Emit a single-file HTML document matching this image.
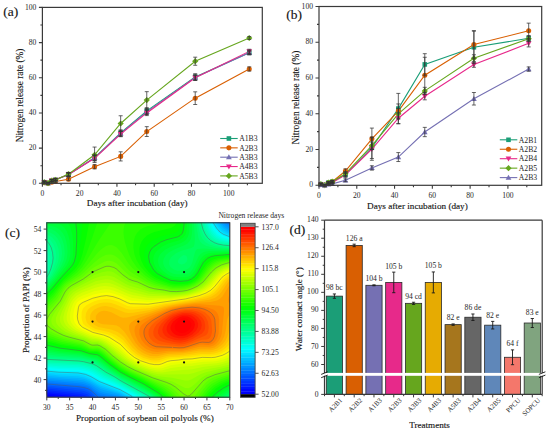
<!DOCTYPE html><html><head><meta charset="utf-8"><style>html,body{margin:0;padding:0;background:#fff;overflow:hidden}svg{display:block}</style></head><body>
<svg width="550" height="431" viewBox="0 0 550 431" font-family="'Liberation Serif', serif">
<style>.t{stroke:#222;stroke-width:0.14px}</style>
<rect width="550" height="431" fill="#fff"/>
<polyline points="44.26,182.24 47.99,183.12 51.72,180.66 55.44,179.78 68.49,174.51 94.58,157.62 120.67,132.99 146.76,110.83 195.21,76.88 249.25,52.78" fill="none" stroke="#1b9e77" stroke-width="1.1"/>
<polyline points="44.26,182.77 47.99,183.3 51.72,182.24 55.44,181.54 68.49,179.25 94.58,166.77 120.67,156.39 146.76,131.59 195.21,98.16 249.25,68.97" fill="none" stroke="#d95f02" stroke-width="1.1"/>
<polyline points="44.26,182.24 47.99,183.12 51.72,180.66 55.44,179.78 68.49,174.86 94.58,157.79 120.67,133.34 146.76,111.88 195.21,77.58 249.25,52.78" fill="none" stroke="#7570b3" stroke-width="1.1"/>
<polyline points="44.26,182.24 47.99,183.12 51.72,180.66 55.44,179.78 68.49,174.51 94.58,158.32 120.67,134.05 146.76,112.94 195.21,77.76 249.25,51.38" fill="none" stroke="#e7298a" stroke-width="1.1"/>
<polyline points="44.26,182.24 47.99,183.12 51.72,180.66 55.44,179.78 68.49,174.15 94.58,154.8 120.67,123.49 146.76,100.1 195.21,61.23 249.25,38.01" fill="none" stroke="#66a61e" stroke-width="1.1"/>
<rect x="41.96" y="179.94" width="4.6" height="4.6" fill="#1b9e77"/>
<rect x="45.69" y="180.82" width="4.6" height="4.6" fill="#1b9e77"/>
<rect x="49.42" y="178.36" width="4.6" height="4.6" fill="#1b9e77"/>
<rect x="53.14" y="177.48" width="4.6" height="4.6" fill="#1b9e77"/>
<rect x="66.19" y="172.21" width="4.6" height="4.6" fill="#1b9e77"/>
<rect x="92.28" y="155.32" width="4.6" height="4.6" fill="#1b9e77"/>
<rect x="118.37" y="130.69" width="4.6" height="4.6" fill="#1b9e77"/>
<rect x="144.46" y="108.53" width="4.6" height="4.6" fill="#1b9e77"/>
<rect x="192.91" y="74.58" width="4.6" height="4.6" fill="#1b9e77"/>
<rect x="246.95" y="50.48" width="4.6" height="4.6" fill="#1b9e77"/>
<circle cx="44.26" cy="182.77" r="2.53" fill="#d95f02"/>
<circle cx="47.99" cy="183.3" r="2.53" fill="#d95f02"/>
<circle cx="51.72" cy="182.24" r="2.53" fill="#d95f02"/>
<circle cx="55.44" cy="181.54" r="2.53" fill="#d95f02"/>
<circle cx="68.49" cy="179.25" r="2.53" fill="#d95f02"/>
<circle cx="94.58" cy="166.77" r="2.53" fill="#d95f02"/>
<circle cx="120.67" cy="156.39" r="2.53" fill="#d95f02"/>
<circle cx="146.76" cy="131.59" r="2.53" fill="#d95f02"/>
<circle cx="195.21" cy="98.16" r="2.53" fill="#d95f02"/>
<circle cx="249.25" cy="68.97" r="2.53" fill="#d95f02"/>
<path d="M44.26 179.37L47.14 184.4L41.39 184.4Z" fill="#7570b3"/>
<path d="M47.99 180.25L50.87 185.28L45.12 185.28Z" fill="#7570b3"/>
<path d="M51.72 177.79L54.59 182.82L48.84 182.82Z" fill="#7570b3"/>
<path d="M55.44 176.91L58.32 181.94L52.57 181.94Z" fill="#7570b3"/>
<path d="M68.49 171.98L71.36 177.01L65.61 177.01Z" fill="#7570b3"/>
<path d="M94.58 154.92L97.45 159.95L91.7 159.95Z" fill="#7570b3"/>
<path d="M120.67 130.47L123.54 135.5L117.79 135.5Z" fill="#7570b3"/>
<path d="M146.76 109.01L149.63 114.04L143.88 114.04Z" fill="#7570b3"/>
<path d="M195.21 74.71L198.08 79.74L192.33 79.74Z" fill="#7570b3"/>
<path d="M249.25 49.91L252.12 54.94L246.37 54.94Z" fill="#7570b3"/>
<path d="M44.26 185.12L47.14 180.09L41.39 180.09Z" fill="#e7298a"/>
<path d="M47.99 186L50.87 180.97L45.12 180.97Z" fill="#e7298a"/>
<path d="M51.72 183.54L54.59 178.51L48.84 178.51Z" fill="#e7298a"/>
<path d="M55.44 182.66L58.32 177.63L52.57 177.63Z" fill="#e7298a"/>
<path d="M68.49 177.38L71.36 172.35L65.61 172.35Z" fill="#e7298a"/>
<path d="M94.58 161.2L97.45 156.17L91.7 156.17Z" fill="#e7298a"/>
<path d="M120.67 136.92L123.54 131.89L117.79 131.89Z" fill="#e7298a"/>
<path d="M146.76 115.82L149.63 110.78L143.88 110.78Z" fill="#e7298a"/>
<path d="M195.21 80.64L198.08 75.6L192.33 75.6Z" fill="#e7298a"/>
<path d="M249.25 54.25L252.12 49.22L246.37 49.22Z" fill="#e7298a"/>
<path d="M44.26 179.14L47.37 182.24L44.26 185.35L41.16 182.24Z" fill="#66a61e"/>
<path d="M47.99 180.02L51.1 183.12L47.99 186.23L44.89 183.12Z" fill="#66a61e"/>
<path d="M51.72 177.56L54.82 180.66L51.72 183.77L48.61 180.66Z" fill="#66a61e"/>
<path d="M55.44 176.68L58.55 179.78L55.44 182.89L52.34 179.78Z" fill="#66a61e"/>
<path d="M68.49 171.05L71.59 174.15L68.49 177.26L65.38 174.15Z" fill="#66a61e"/>
<path d="M94.58 151.7L97.68 154.8L94.58 157.91L91.47 154.8Z" fill="#66a61e"/>
<path d="M120.67 120.39L123.77 123.49L120.67 126.6L117.56 123.49Z" fill="#66a61e"/>
<path d="M146.76 96.99L149.86 100.1L146.76 103.2L143.65 100.1Z" fill="#66a61e"/>
<path d="M195.21 58.12L198.31 61.23L195.21 64.33L192.1 61.23Z" fill="#66a61e"/>
<path d="M249.25 34.9L252.35 38.01L249.25 41.11L246.14 38.01Z" fill="#66a61e"/>
<path d="M44.26 181.19V183.3M42.26 181.19H46.26M42.26 183.3H46.26" stroke="#333" stroke-width="0.75" fill="none"/>
<path d="M47.99 182.42V183.83M45.99 182.42H49.99M45.99 183.83H49.99" stroke="#333" stroke-width="0.75" fill="none"/>
<path d="M51.72 179.61V181.72M49.72 179.61H53.72M49.72 181.72H53.72" stroke="#333" stroke-width="0.75" fill="none"/>
<path d="M55.44 178.73V180.84M53.44 178.73H57.44M53.44 180.84H57.44" stroke="#333" stroke-width="0.75" fill="none"/>
<path d="M68.49 172.75V176.26M66.49 172.75H70.49M66.49 176.26H70.49" stroke="#333" stroke-width="0.75" fill="none"/>
<path d="M94.58 154.98V160.26M92.58 154.98H96.58M92.58 160.26H96.58" stroke="#333" stroke-width="0.75" fill="none"/>
<path d="M120.67 129.83V136.16M118.67 129.83H122.67M118.67 136.16H122.67" stroke="#333" stroke-width="0.75" fill="none"/>
<path d="M146.76 107.66V114M144.76 107.66H148.76M144.76 114H148.76" stroke="#333" stroke-width="0.75" fill="none"/>
<path d="M195.21 73.71V80.05M193.21 73.71H197.21M193.21 80.05H197.21" stroke="#333" stroke-width="0.75" fill="none"/>
<path d="M249.25 51.02V54.54M247.25 51.02H251.25M247.25 54.54H251.25" stroke="#333" stroke-width="0.75" fill="none"/>
<path d="M44.26 181.72V183.83M42.26 181.72H46.26M42.26 183.83H46.26" stroke="#333" stroke-width="0.75" fill="none"/>
<path d="M47.99 182.6V184M45.99 182.6H49.99M45.99 184H49.99" stroke="#333" stroke-width="0.75" fill="none"/>
<path d="M51.72 181.19V183.3M49.72 181.19H53.72M49.72 183.3H53.72" stroke="#333" stroke-width="0.75" fill="none"/>
<path d="M55.44 180.49V182.6M53.44 180.49H57.44M53.44 182.6H57.44" stroke="#333" stroke-width="0.75" fill="none"/>
<path d="M68.49 177.85V180.66M66.49 177.85H70.49M66.49 180.66H70.49" stroke="#333" stroke-width="0.75" fill="none"/>
<path d="M94.58 164.65V168.88M92.58 164.65H96.58M92.58 168.88H96.58" stroke="#333" stroke-width="0.75" fill="none"/>
<path d="M120.67 151.81V160.96M118.67 151.81H122.67M118.67 160.96H122.67" stroke="#333" stroke-width="0.75" fill="none"/>
<path d="M146.76 126.66V136.51M144.76 126.66H148.76M144.76 136.51H148.76" stroke="#333" stroke-width="0.75" fill="none"/>
<path d="M195.21 91.83V104.5M193.21 91.83H197.21M193.21 104.5H197.21" stroke="#333" stroke-width="0.75" fill="none"/>
<path d="M249.25 66.85V71.08M247.25 66.85H251.25M247.25 71.08H251.25" stroke="#333" stroke-width="0.75" fill="none"/>
<path d="M44.26 181.19V183.3M42.26 181.19H46.26M42.26 183.3H46.26" stroke="#333" stroke-width="0.75" fill="none"/>
<path d="M47.99 182.42V183.83M45.99 182.42H49.99M45.99 183.83H49.99" stroke="#333" stroke-width="0.75" fill="none"/>
<path d="M51.72 179.61V181.72M49.72 179.61H53.72M49.72 181.72H53.72" stroke="#333" stroke-width="0.75" fill="none"/>
<path d="M55.44 178.73V180.84M53.44 178.73H57.44M53.44 180.84H57.44" stroke="#333" stroke-width="0.75" fill="none"/>
<path d="M68.49 173.1V176.62M66.49 173.1H70.49M66.49 176.62H70.49" stroke="#333" stroke-width="0.75" fill="none"/>
<path d="M94.58 155.16V160.43M92.58 155.16H96.58M92.58 160.43H96.58" stroke="#333" stroke-width="0.75" fill="none"/>
<path d="M120.67 130.71V135.98M118.67 130.71H122.67M118.67 135.98H122.67" stroke="#333" stroke-width="0.75" fill="none"/>
<path d="M146.76 109.25V114.52M144.76 109.25H148.76M144.76 114.52H148.76" stroke="#333" stroke-width="0.75" fill="none"/>
<path d="M195.21 74.95V80.22M193.21 74.95H197.21M193.21 80.22H197.21" stroke="#333" stroke-width="0.75" fill="none"/>
<path d="M249.25 50.67V54.89M247.25 50.67H251.25M247.25 54.89H251.25" stroke="#333" stroke-width="0.75" fill="none"/>
<path d="M44.26 181.19V183.3M42.26 181.19H46.26M42.26 183.3H46.26" stroke="#333" stroke-width="0.75" fill="none"/>
<path d="M47.99 182.42V183.83M45.99 182.42H49.99M45.99 183.83H49.99" stroke="#333" stroke-width="0.75" fill="none"/>
<path d="M51.72 179.61V181.72M49.72 179.61H53.72M49.72 181.72H53.72" stroke="#333" stroke-width="0.75" fill="none"/>
<path d="M55.44 178.73V180.84M53.44 178.73H57.44M53.44 180.84H57.44" stroke="#333" stroke-width="0.75" fill="none"/>
<path d="M68.49 172.75V176.26M66.49 172.75H70.49M66.49 176.26H70.49" stroke="#333" stroke-width="0.75" fill="none"/>
<path d="M94.58 155.68V160.96M92.58 155.68H96.58M92.58 160.96H96.58" stroke="#333" stroke-width="0.75" fill="none"/>
<path d="M120.67 131.41V136.69M118.67 131.41H122.67M118.67 136.69H122.67" stroke="#333" stroke-width="0.75" fill="none"/>
<path d="M146.76 110.3V115.58M144.76 110.3H148.76M144.76 115.58H148.76" stroke="#333" stroke-width="0.75" fill="none"/>
<path d="M195.21 75.12V80.4M193.21 75.12H197.21M193.21 80.4H197.21" stroke="#333" stroke-width="0.75" fill="none"/>
<path d="M249.25 49.26V53.49M247.25 49.26H251.25M247.25 53.49H251.25" stroke="#333" stroke-width="0.75" fill="none"/>
<path d="M44.26 181.19V183.3M42.26 181.19H46.26M42.26 183.3H46.26" stroke="#333" stroke-width="0.75" fill="none"/>
<path d="M47.99 182.42V183.83M45.99 182.42H49.99M45.99 183.83H49.99" stroke="#333" stroke-width="0.75" fill="none"/>
<path d="M51.72 179.61V181.72M49.72 179.61H53.72M49.72 181.72H53.72" stroke="#333" stroke-width="0.75" fill="none"/>
<path d="M55.44 178.73V180.84M53.44 178.73H57.44M53.44 180.84H57.44" stroke="#333" stroke-width="0.75" fill="none"/>
<path d="M68.49 172.39V175.91M66.49 172.39H70.49M66.49 175.91H70.49" stroke="#333" stroke-width="0.75" fill="none"/>
<path d="M94.58 147.06V162.54M92.58 147.06H96.58M92.58 162.54H96.58" stroke="#333" stroke-width="0.75" fill="none"/>
<path d="M120.67 115.75V131.23M118.67 115.75H122.67M118.67 131.23H122.67" stroke="#333" stroke-width="0.75" fill="none"/>
<path d="M146.76 91.66V108.54M144.76 91.66H148.76M144.76 108.54H148.76" stroke="#333" stroke-width="0.75" fill="none"/>
<path d="M195.21 57.18V65.27M193.21 57.18H197.21M193.21 65.27H197.21" stroke="#333" stroke-width="0.75" fill="none"/>
<path d="M249.25 36.6V39.41M247.25 36.6H251.25M247.25 39.41H251.25" stroke="#333" stroke-width="0.75" fill="none"/>
<rect x="42.4" y="7.4" width="219.9" height="175.9" fill="none" stroke="#3a3a3a" stroke-width="1.2"/>
<path d="M42.4 183.3h-3.5M42.4 148.12h-3.5M42.4 112.94h-3.5M42.4 77.76h-3.5M42.4 42.58h-3.5M42.4 7.4h-3.5M42.4 165.71h-2M42.4 130.53h-2M42.4 95.35h-2M42.4 60.17h-2M42.4 24.99h-2M42.4 183.3v3.5M79.67 183.3v3.5M116.94 183.3v3.5M154.21 183.3v3.5M191.48 183.3v3.5M228.75 183.3v3.5M61.03 183.3v2M98.31 183.3v2M135.57 183.3v2M172.84 183.3v2M210.12 183.3v2M247.38 183.3v2" stroke="#3a3a3a" stroke-width="1.1" fill="none"/>
<text x="36.4" y="185.4" font-size="7.6" text-anchor="end" fill="#262626">0</text>
<text x="36.4" y="150.22" font-size="7.6" text-anchor="end" fill="#262626">20</text>
<text x="36.4" y="115.04" font-size="7.6" text-anchor="end" fill="#262626">40</text>
<text x="36.4" y="79.86" font-size="7.6" text-anchor="end" fill="#262626">60</text>
<text x="36.4" y="44.68" font-size="7.6" text-anchor="end" fill="#262626">80</text>
<text x="36.4" y="9.5" font-size="7.6" text-anchor="end" fill="#262626">100</text>
<text x="42.4" y="195.8" font-size="7.6" text-anchor="middle" fill="#262626">0</text>
<text x="79.67" y="195.8" font-size="7.6" text-anchor="middle" fill="#262626">20</text>
<text x="116.94" y="195.8" font-size="7.6" text-anchor="middle" fill="#262626">40</text>
<text x="154.21" y="195.8" font-size="7.6" text-anchor="middle" fill="#262626">60</text>
<text x="191.48" y="195.8" font-size="7.6" text-anchor="middle" fill="#262626">80</text>
<text x="228.75" y="195.8" font-size="7.6" text-anchor="middle" fill="#262626">100</text>
<text class="t" x="137.2" y="206.4" font-size="9.2" text-anchor="middle" fill="#111">Days after incubation (day)</text>
<text class="t" transform="translate(23.2 95.4) rotate(-90)" font-size="9.3" text-anchor="middle" fill="#111">Nitrogen release rate (%)</text>
<text class="t" x="3.2" y="16.1" font-size="13.5" fill="#111">(a)</text>
<path d="M220.2 138.5H237.7" stroke="#1b9e77" stroke-width="1.1"/>
<rect x="226.6" y="136.2" width="4.6" height="4.6" fill="#1b9e77"/>
<text x="239.2" y="141.2" font-size="7.7" fill="#262626">A1B3</text>
<path d="M220.2 147.85H237.7" stroke="#d95f02" stroke-width="1.1"/>
<circle cx="228.9" cy="147.85" r="2.53" fill="#d95f02"/>
<text x="239.2" y="150.55" font-size="7.7" fill="#262626">A2B3</text>
<path d="M220.2 157.2H237.7" stroke="#7570b3" stroke-width="1.1"/>
<path d="M228.9 154.32L231.77 159.36L226.02 159.36Z" fill="#7570b3"/>
<text x="239.2" y="159.9" font-size="7.7" fill="#262626">A3B3</text>
<path d="M220.2 166.55H237.7" stroke="#e7298a" stroke-width="1.1"/>
<path d="M228.9 169.43L231.77 164.39L226.02 164.39Z" fill="#e7298a"/>
<text x="239.2" y="169.25" font-size="7.7" fill="#262626">A4B3</text>
<path d="M220.2 175.9H237.7" stroke="#66a61e" stroke-width="1.1"/>
<path d="M228.9 172.8L232 175.9L228.9 179L225.79 175.9Z" fill="#66a61e"/>
<text x="239.2" y="178.6" font-size="7.7" fill="#262626">A5B3</text>
<polyline points="320.89,184.23 324.67,185.12 328.44,182.62 332.22,181.72 345.45,174.57 371.89,147.75 398.34,108.59 424.78,64.43 473.9,47.27 528.68,38.33" fill="none" stroke="#1b9e77" stroke-width="1.1"/>
<polyline points="320.89,184.41 324.67,185.3 328.44,183.15 332.22,181.72 345.45,171 371.89,138.81 398.34,111.1 424.78,75.16 473.9,44.41 528.68,30.82" fill="none" stroke="#d95f02" stroke-width="1.1"/>
<polyline points="320.89,184.58 324.67,185.3 328.44,183.51 332.22,182.62 345.45,174.93 371.89,149 398.34,118.25 424.78,96.26 473.9,64.61 528.68,43.33" fill="none" stroke="#e7298a" stroke-width="1.1"/>
<polyline points="320.89,184.23 324.67,185.12 328.44,182.62 332.22,181.72 345.45,173.68 371.89,145.61 398.34,113.78 424.78,90.89 473.9,58.35 528.68,38.68" fill="none" stroke="#66a61e" stroke-width="1.1"/>
<polyline points="320.89,184.76 324.67,185.3 328.44,184.41 332.22,183.87 345.45,180.29 371.89,167.96 398.34,157.05 424.78,132.02 473.9,98.76 528.68,69.08" fill="none" stroke="#7570b3" stroke-width="1.1"/>
<rect x="318.59" y="181.93" width="4.6" height="4.6" fill="#1b9e77"/>
<rect x="322.37" y="182.82" width="4.6" height="4.6" fill="#1b9e77"/>
<rect x="326.14" y="180.32" width="4.6" height="4.6" fill="#1b9e77"/>
<rect x="329.92" y="179.42" width="4.6" height="4.6" fill="#1b9e77"/>
<rect x="343.15" y="172.27" width="4.6" height="4.6" fill="#1b9e77"/>
<rect x="369.59" y="145.45" width="4.6" height="4.6" fill="#1b9e77"/>
<rect x="396.04" y="106.29" width="4.6" height="4.6" fill="#1b9e77"/>
<rect x="422.48" y="62.13" width="4.6" height="4.6" fill="#1b9e77"/>
<rect x="471.6" y="44.97" width="4.6" height="4.6" fill="#1b9e77"/>
<rect x="526.38" y="36.03" width="4.6" height="4.6" fill="#1b9e77"/>
<circle cx="320.89" cy="184.41" r="2.53" fill="#d95f02"/>
<circle cx="324.67" cy="185.3" r="2.53" fill="#d95f02"/>
<circle cx="328.44" cy="183.15" r="2.53" fill="#d95f02"/>
<circle cx="332.22" cy="181.72" r="2.53" fill="#d95f02"/>
<circle cx="345.45" cy="171" r="2.53" fill="#d95f02"/>
<circle cx="371.89" cy="138.81" r="2.53" fill="#d95f02"/>
<circle cx="398.34" cy="111.1" r="2.53" fill="#d95f02"/>
<circle cx="424.78" cy="75.16" r="2.53" fill="#d95f02"/>
<circle cx="473.9" cy="44.41" r="2.53" fill="#d95f02"/>
<circle cx="528.68" cy="30.82" r="2.53" fill="#d95f02"/>
<path d="M320.89 187.46L323.76 182.43L318.01 182.43Z" fill="#e7298a"/>
<path d="M324.67 188.18L327.54 183.14L321.79 183.14Z" fill="#e7298a"/>
<path d="M328.44 186.39L331.32 181.36L325.57 181.36Z" fill="#e7298a"/>
<path d="M332.22 185.49L335.1 180.46L329.35 180.46Z" fill="#e7298a"/>
<path d="M345.45 177.8L348.32 172.77L342.57 172.77Z" fill="#e7298a"/>
<path d="M371.89 151.88L374.77 146.85L369.02 146.85Z" fill="#e7298a"/>
<path d="M398.34 121.13L401.21 116.09L395.46 116.09Z" fill="#e7298a"/>
<path d="M424.78 99.13L427.66 94.1L421.91 94.1Z" fill="#e7298a"/>
<path d="M473.9 67.49L476.77 62.45L471.02 62.45Z" fill="#e7298a"/>
<path d="M528.68 46.21L531.55 41.18L525.8 41.18Z" fill="#e7298a"/>
<path d="M320.89 181.12L323.99 184.23L320.89 187.33L317.78 184.23Z" fill="#66a61e"/>
<path d="M324.67 182.02L327.77 185.12L324.67 188.23L321.56 185.12Z" fill="#66a61e"/>
<path d="M328.44 179.51L331.55 182.62L328.44 185.72L325.34 182.62Z" fill="#66a61e"/>
<path d="M332.22 178.62L335.33 181.72L332.22 184.83L329.12 181.72Z" fill="#66a61e"/>
<path d="M345.45 170.57L348.55 173.68L345.45 176.78L342.34 173.68Z" fill="#66a61e"/>
<path d="M371.89 142.5L375 145.61L371.89 148.71L368.79 145.61Z" fill="#66a61e"/>
<path d="M398.34 110.68L401.44 113.78L398.34 116.89L395.23 113.78Z" fill="#66a61e"/>
<path d="M424.78 87.79L427.89 90.89L424.78 94L421.68 90.89Z" fill="#66a61e"/>
<path d="M473.9 55.25L477 58.35L473.9 61.46L470.79 58.35Z" fill="#66a61e"/>
<path d="M528.68 35.58L531.78 38.68L528.68 41.79L525.57 38.68Z" fill="#66a61e"/>
<path d="M320.89 181.89L323.76 186.92L318.01 186.92Z" fill="#7570b3"/>
<path d="M324.67 182.43L327.54 187.46L321.79 187.46Z" fill="#7570b3"/>
<path d="M328.44 181.53L331.32 186.56L325.57 186.56Z" fill="#7570b3"/>
<path d="M332.22 180.99L335.1 186.03L329.35 186.03Z" fill="#7570b3"/>
<path d="M345.45 177.42L348.32 182.45L342.57 182.45Z" fill="#7570b3"/>
<path d="M371.89 165.08L374.77 170.11L369.02 170.11Z" fill="#7570b3"/>
<path d="M398.34 154.17L401.21 159.21L395.46 159.21Z" fill="#7570b3"/>
<path d="M424.78 129.14L427.66 134.17L421.91 134.17Z" fill="#7570b3"/>
<path d="M473.9 95.89L476.77 100.92L471.02 100.92Z" fill="#7570b3"/>
<path d="M528.68 66.21L531.55 71.24L525.8 71.24Z" fill="#7570b3"/>
<path d="M320.89 183.15V185.3M318.89 183.15H322.89M318.89 185.3H322.89" stroke="#333" stroke-width="0.75" fill="none"/>
<path d="M324.67 184.41V185.84M322.67 184.41H326.67M322.67 185.84H326.67" stroke="#333" stroke-width="0.75" fill="none"/>
<path d="M328.44 181.55V183.69M326.44 181.55H330.44M326.44 183.69H330.44" stroke="#333" stroke-width="0.75" fill="none"/>
<path d="M332.22 180.65V182.8M330.22 180.65H334.22M330.22 182.8H334.22" stroke="#333" stroke-width="0.75" fill="none"/>
<path d="M345.45 171.89V177.25M343.45 171.89H347.45M343.45 177.25H347.45" stroke="#333" stroke-width="0.75" fill="none"/>
<path d="M371.89 137.02V158.48M369.89 137.02H373.89M369.89 158.48H373.89" stroke="#333" stroke-width="0.75" fill="none"/>
<path d="M398.34 93.4V123.79M396.34 93.4H400.34M396.34 123.79H400.34" stroke="#333" stroke-width="0.75" fill="none"/>
<path d="M424.78 53.7V75.16M422.78 53.7H426.78M422.78 75.16H426.78" stroke="#333" stroke-width="0.75" fill="none"/>
<path d="M473.9 31.17V63.36M471.9 31.17H475.9M471.9 63.36H475.9" stroke="#333" stroke-width="0.75" fill="none"/>
<path d="M528.68 35.64V41.01M526.68 35.64H530.68M526.68 41.01H530.68" stroke="#333" stroke-width="0.75" fill="none"/>
<path d="M320.89 183.33V185.48M318.89 183.33H322.89M318.89 185.48H322.89" stroke="#333" stroke-width="0.75" fill="none"/>
<path d="M324.67 184.58V186.02M322.67 184.58H326.67M322.67 186.02H326.67" stroke="#333" stroke-width="0.75" fill="none"/>
<path d="M328.44 182.08V184.23M326.44 182.08H330.44M326.44 184.23H330.44" stroke="#333" stroke-width="0.75" fill="none"/>
<path d="M332.22 180.65V182.8M330.22 180.65H334.22M330.22 182.8H334.22" stroke="#333" stroke-width="0.75" fill="none"/>
<path d="M345.45 168.85V173.14M343.45 168.85H347.45M343.45 173.14H347.45" stroke="#333" stroke-width="0.75" fill="none"/>
<path d="M371.89 128.08V149.54M369.89 128.08H373.89M369.89 149.54H373.89" stroke="#333" stroke-width="0.75" fill="none"/>
<path d="M398.34 103.95V118.25M396.34 103.95H400.34M396.34 118.25H400.34" stroke="#333" stroke-width="0.75" fill="none"/>
<path d="M424.78 57.28V93.04M422.78 57.28H426.78M422.78 93.04H426.78" stroke="#333" stroke-width="0.75" fill="none"/>
<path d="M473.9 30.64V58.17M471.9 30.64H475.9M471.9 58.17H475.9" stroke="#333" stroke-width="0.75" fill="none"/>
<path d="M528.68 23.13V38.51M526.68 23.13H530.68M526.68 38.51H530.68" stroke="#333" stroke-width="0.75" fill="none"/>
<path d="M320.89 183.51V185.66M318.89 183.51H322.89M318.89 185.66H322.89" stroke="#333" stroke-width="0.75" fill="none"/>
<path d="M324.67 184.58V186.02M322.67 184.58H326.67M322.67 186.02H326.67" stroke="#333" stroke-width="0.75" fill="none"/>
<path d="M328.44 182.44V184.58M326.44 182.44H330.44M326.44 184.58H330.44" stroke="#333" stroke-width="0.75" fill="none"/>
<path d="M332.22 181.55V183.69M330.22 181.55H334.22M330.22 183.69H334.22" stroke="#333" stroke-width="0.75" fill="none"/>
<path d="M345.45 173.14V176.72M343.45 173.14H347.45M343.45 176.72H347.45" stroke="#333" stroke-width="0.75" fill="none"/>
<path d="M371.89 137.74V160.27M369.89 137.74H373.89M369.89 160.27H373.89" stroke="#333" stroke-width="0.75" fill="none"/>
<path d="M398.34 112.89V123.61M396.34 112.89H400.34M396.34 123.61H400.34" stroke="#333" stroke-width="0.75" fill="none"/>
<path d="M424.78 92.68V99.83M422.78 92.68H426.78M422.78 99.83H426.78" stroke="#333" stroke-width="0.75" fill="none"/>
<path d="M473.9 61.93V67.29M471.9 61.93H475.9M471.9 67.29H475.9" stroke="#333" stroke-width="0.75" fill="none"/>
<path d="M528.68 39.76V46.91M526.68 39.76H530.68M526.68 46.91H530.68" stroke="#333" stroke-width="0.75" fill="none"/>
<path d="M320.89 183.15V185.3M318.89 183.15H322.89M318.89 185.3H322.89" stroke="#333" stroke-width="0.75" fill="none"/>
<path d="M324.67 184.41V185.84M322.67 184.41H326.67M322.67 185.84H326.67" stroke="#333" stroke-width="0.75" fill="none"/>
<path d="M328.44 181.55V183.69M326.44 181.55H330.44M326.44 183.69H330.44" stroke="#333" stroke-width="0.75" fill="none"/>
<path d="M332.22 180.65V182.8M330.22 180.65H334.22M330.22 182.8H334.22" stroke="#333" stroke-width="0.75" fill="none"/>
<path d="M345.45 171.89V175.47M343.45 171.89H347.45M343.45 175.47H347.45" stroke="#333" stroke-width="0.75" fill="none"/>
<path d="M371.89 142.03V149.18M369.89 142.03H373.89M369.89 149.18H373.89" stroke="#333" stroke-width="0.75" fill="none"/>
<path d="M398.34 108.42V119.14M396.34 108.42H400.34M396.34 119.14H400.34" stroke="#333" stroke-width="0.75" fill="none"/>
<path d="M424.78 87.32V94.47M422.78 87.32H426.78M422.78 94.47H426.78" stroke="#333" stroke-width="0.75" fill="none"/>
<path d="M473.9 54.78V61.93M471.9 54.78H475.9M471.9 61.93H475.9" stroke="#333" stroke-width="0.75" fill="none"/>
<path d="M528.68 36V41.37M526.68 36H530.68M526.68 41.37H530.68" stroke="#333" stroke-width="0.75" fill="none"/>
<path d="M320.89 183.69V185.84M318.89 183.69H322.89M318.89 185.84H322.89" stroke="#333" stroke-width="0.75" fill="none"/>
<path d="M324.67 184.58V186.02M322.67 184.58H326.67M322.67 186.02H326.67" stroke="#333" stroke-width="0.75" fill="none"/>
<path d="M328.44 183.33V185.48M326.44 183.33H330.44M326.44 185.48H330.44" stroke="#333" stroke-width="0.75" fill="none"/>
<path d="M332.22 182.8V184.94M330.22 182.8H334.22M330.22 184.94H334.22" stroke="#333" stroke-width="0.75" fill="none"/>
<path d="M345.45 178.86V181.72M343.45 178.86H347.45M343.45 181.72H347.45" stroke="#333" stroke-width="0.75" fill="none"/>
<path d="M371.89 165.81V170.1M369.89 165.81H373.89M369.89 170.1H373.89" stroke="#333" stroke-width="0.75" fill="none"/>
<path d="M398.34 152.58V161.52M396.34 152.58H400.34M396.34 161.52H400.34" stroke="#333" stroke-width="0.75" fill="none"/>
<path d="M424.78 127.37V136.67M422.78 127.37H426.78M422.78 136.67H426.78" stroke="#333" stroke-width="0.75" fill="none"/>
<path d="M473.9 92.5V105.02M471.9 92.5H475.9M471.9 105.02H475.9" stroke="#333" stroke-width="0.75" fill="none"/>
<path d="M528.68 66.93V71.23M526.68 66.93H530.68M526.68 71.23H530.68" stroke="#333" stroke-width="0.75" fill="none"/>
<rect x="319" y="6.5" width="222.7" height="178.8" fill="none" stroke="#3a3a3a" stroke-width="1.2"/>
<path d="M319 185.3h-3.5M319 149.54h-3.5M319 113.78h-3.5M319 78.02h-3.5M319 42.26h-3.5M319 6.5h-3.5M319 167.42h-2M319 131.66h-2M319 95.9h-2M319 60.14h-2M319 24.38h-2M319 185.3v3.5M356.78 185.3v3.5M394.56 185.3v3.5M432.34 185.3v3.5M470.12 185.3v3.5M507.9 185.3v3.5M337.89 185.3v2M375.67 185.3v2M413.45 185.3v2M451.23 185.3v2M489.01 185.3v2M526.79 185.3v2" stroke="#3a3a3a" stroke-width="1.1" fill="none"/>
<text x="313" y="187.4" font-size="7.6" text-anchor="end" fill="#262626">0</text>
<text x="313" y="151.64" font-size="7.6" text-anchor="end" fill="#262626">20</text>
<text x="313" y="115.88" font-size="7.6" text-anchor="end" fill="#262626">40</text>
<text x="313" y="80.12" font-size="7.6" text-anchor="end" fill="#262626">60</text>
<text x="313" y="44.36" font-size="7.6" text-anchor="end" fill="#262626">80</text>
<text x="313" y="8.6" font-size="7.6" text-anchor="end" fill="#262626">100</text>
<text x="319" y="197.8" font-size="7.6" text-anchor="middle" fill="#262626">0</text>
<text x="356.78" y="197.8" font-size="7.6" text-anchor="middle" fill="#262626">20</text>
<text x="394.56" y="197.8" font-size="7.6" text-anchor="middle" fill="#262626">40</text>
<text x="432.34" y="197.8" font-size="7.6" text-anchor="middle" fill="#262626">60</text>
<text x="470.12" y="197.8" font-size="7.6" text-anchor="middle" fill="#262626">80</text>
<text x="507.9" y="197.8" font-size="7.6" text-anchor="middle" fill="#262626">100</text>
<text class="t" x="417.4" y="208.5" font-size="9.2" text-anchor="middle" fill="#111">Days after incubation (day)</text>
<text class="t" transform="translate(299 97.6) rotate(-90)" font-size="9.3" text-anchor="middle" fill="#111">Nitrogen release rate (%)</text>
<text class="t" x="286.2" y="19.1" font-size="13.5" fill="#111">(b)</text>
<path d="M499.8 139.8H517.3" stroke="#1b9e77" stroke-width="1.1"/>
<rect x="506.2" y="137.5" width="4.6" height="4.6" fill="#1b9e77"/>
<text x="518.8" y="142.5" font-size="7.7" fill="#262626">A2B1</text>
<path d="M499.8 149.25H517.3" stroke="#d95f02" stroke-width="1.1"/>
<circle cx="508.5" cy="149.25" r="2.53" fill="#d95f02"/>
<text x="518.8" y="151.95" font-size="7.7" fill="#262626">A2B2</text>
<path d="M499.8 158.7H517.3" stroke="#e7298a" stroke-width="1.1"/>
<path d="M508.5 161.58L511.38 156.54L505.62 156.54Z" fill="#e7298a"/>
<text x="518.8" y="161.4" font-size="7.7" fill="#262626">A2B4</text>
<path d="M499.8 168.15H517.3" stroke="#66a61e" stroke-width="1.1"/>
<path d="M508.5 165.05L511.61 168.15L508.5 171.25L505.39 168.15Z" fill="#66a61e"/>
<text x="518.8" y="170.85" font-size="7.7" fill="#262626">A2B5</text>
<path d="M499.8 177.6H517.3" stroke="#7570b3" stroke-width="1.1"/>
<path d="M508.5 174.73L511.38 179.76L505.62 179.76Z" fill="#7570b3"/>
<text x="518.8" y="180.3" font-size="7.7" fill="#262626">A2B3</text>
<rect x="46.8" y="222.8" width="183" height="174.4" fill="#0000f4"/>
<path d="M58.8 397.2L229.8 397.2L229.8 222.8L46.8 222.8L46.8 394.7L58.5 396.3L58.5 397.2Z" fill="#0006ff"/>
<path d="M71.6 397.2L229.8 397.2L229.8 222.8L46.8 222.8L46.8 393.2L71.5 396.3L71.5 397.2Z" fill="#0016ff"/>
<path d="M82.7 397.2L229.8 397.2L229.8 222.8L46.8 222.8L46.8 391.7L77.9 395.4L82.0 396.3L82.0 397.2Z" fill="#0025ff"/>
<path d="M87.3 397.2L229.8 397.2L229.8 222.8L46.8 222.8L46.8 390.1L79.9 393.9L85.4 395.5L86.7 396.3L86.7 397.2Z" fill="#0035ff"/>
<path d="M90.0 397.2L229.8 397.2L229.8 222.8L46.8 222.8L46.8 388.6L81.7 392.4L87.3 394.3L89.8 396.3L89.8 397.2Z" fill="#0045ff"/>
<path d="M92.8 397.2L229.8 397.2L229.8 222.8L46.8 222.8L46.8 387.0L82.7 390.8L86.3 391.8L89.1 393.3L92.3 396.3L92.3 397.2Z" fill="#0055ff"/>
<path d="M95.5 397.2L229.8 397.2L229.8 222.8L46.8 222.8L46.8 385.5L79.0 388.4L84.5 389.4L88.2 390.7L90.9 392.5L94.6 396.3L94.6 397.2Z" fill="#0064ff"/>
<path d="M98.3 397.2L229.8 397.2L229.8 222.8L46.8 222.8L46.8 383.9L79.0 386.7L84.5 387.6L88.2 388.8L91.3 390.7L97.6 396.3L97.6 397.2Z" fill="#0074ff"/>
<path d="M107.5 397.2L229.8 397.2L229.8 224.4L227.6 222.8L46.8 222.8L46.8 382.3L79.0 384.9L84.5 385.9L88.2 387.1L90.9 388.6L98.3 394.3L101.1 395.3L106.7 396.3L106.7 397.2Z" fill="#0084ff"/>
<path d="M116.7 397.2L229.8 397.2L229.8 226.6L224.7 222.8L46.8 222.8L46.8 380.6L79.0 383.2L83.6 383.9L90.0 386.3L97.4 391.5L100.1 392.9L103.8 394.0L116.1 396.3L116.1 397.2Z" fill="#0094ff"/>
<path d="M120.4 397.2L229.8 397.2L229.8 228.7L225.3 225.6L222.3 222.8L46.8 222.8L46.8 379.0L78.1 381.4L83.6 382.2L90.0 384.6L100.1 390.9L104.7 392.4L117.6 395.2L120.4 396.3L120.4 397.2Z" fill="#00a3ff"/>
<path d="M123.1 397.2L229.8 397.2L229.8 230.7L224.3 227.0L220.1 222.8L46.8 222.8L46.8 377.4L59.7 378.6L78.1 379.7L83.6 380.6L90.0 382.9L101.1 389.3L118.5 394.1L123.1 396.3L123.1 397.2Z" fill="#00b3ff"/>
<path d="M125.9 397.2L229.8 397.2L229.8 232.4L223.2 228.3L218.2 222.8L46.8 222.8L46.8 375.7L59.7 377.0L78.1 377.9L84.5 379.1L90.0 381.3L101.1 387.5L120.4 393.5L125.5 396.3L125.5 397.2Z" fill="#00c3ff"/>
<path d="M127.7 397.2L229.8 397.2L229.8 234.0L222.4 230.0L219.7 227.2L216.5 222.8L46.8 222.8L46.8 374.1L59.7 375.4L78.1 376.2L84.5 377.4L90.0 379.6L97.4 384.0L101.1 385.7L120.4 392.2L127.7 396.3L127.7 397.2Z" fill="#00d3ff"/>
<path d="M130.5 397.2L229.8 397.2L229.8 235.4L224.3 233.0L221.3 231.1L217.8 227.4L214.8 222.8L46.8 222.8L46.8 372.6L58.8 373.8L78.1 374.6L84.5 375.7L90.0 377.9L100.1 383.6L120.4 391.0L129.8 396.3L129.8 397.2Z" fill="#00e2ff"/>
<path d="M132.3 397.2L229.8 397.2L229.8 236.8L223.4 234.3L219.9 232.0L216.7 228.3L213.2 222.8L46.8 222.8L46.8 371.1L58.8 372.2L78.1 372.9L85.4 374.3L90.9 376.6L99.3 381.5L120.4 389.8L132.0 396.3L132.0 397.2Z" fill="#00f2ff"/>
<path d="M134.2 397.2L229.8 397.2L229.8 238.0L223.1 235.7L218.8 233.0L215.1 228.7L211.7 222.8L46.8 222.8L46.8 369.6L58.8 370.7L78.1 371.3L86.3 373.0L90.9 374.9L100.1 380.2L120.4 388.6L134.1 396.3L134.1 397.2Z" fill="#00fffc"/>
<path d="M136.9 397.2L229.8 397.2L229.8 239.2L222.4 236.9L217.8 234.1L213.7 229.3L210.2 222.8L46.8 222.8L46.8 368.1L58.8 369.1L78.1 369.8L82.7 370.4L87.3 371.6L91.9 373.5L100.7 378.7L113.9 384.3L121.3 387.9L136.4 396.3L136.4 397.2Z" fill="#00ffec"/>
<path d="M138.8 397.2L229.8 397.2L229.8 240.3L221.5 238.0L216.9 235.3L212.5 230.2L208.8 222.8L46.8 222.8L46.8 366.7L59.7 367.7L78.1 368.2L83.6 369.0L88.2 370.3L92.8 372.2L102.0 377.7L113.9 382.8L121.3 386.7L138.6 396.3L138.6 397.2Z" fill="#00ffdc"/>
<path d="M141.5 397.2L229.8 397.2L229.8 241.4L221.5 239.4L218.8 238.2L216.0 236.4L213.4 233.9L211.3 231.1L209.2 227.4L207.3 222.8L46.8 222.8L46.8 365.3L59.7 366.2L78.4 366.7L83.6 367.5L89.1 369.0L93.7 371.0L103.7 376.9L114.9 381.9L140.9 396.3L140.9 397.2Z" fill="#00ffcc"/>
<path d="M143.4 397.2L229.8 397.2L229.8 242.5L220.6 240.5L216.9 238.8L214.2 236.9L211.4 234.0L209.5 231.1L205.8 222.8L46.8 222.8L46.8 363.9L79.0 365.3L83.6 366.0L90.1 367.7L94.6 369.7L104.9 376.0L114.9 380.6L130.5 389.6L143.1 396.3L143.1 397.2Z" fill="#00ffbc"/>
<path d="M146.1 397.2L229.8 397.2L229.8 243.6L224.3 242.8L219.7 241.6L216.0 240.0L213.2 238.2L210.5 235.4L208.1 232.0L205.9 227.4L204.3 222.8L46.8 222.8L46.8 362.4L79.0 363.9L84.5 364.7L91.9 366.7L95.5 368.5L105.7 374.9L114.9 379.3L128.6 387.5L145.2 396.3L145.2 397.2Z" fill="#00ffab"/>
<path d="M148.0 397.2L229.8 397.2L229.8 244.6L223.4 243.9L218.8 242.8L215.1 241.3L212.1 239.4L209.2 236.6L206.7 233.0L204.5 228.3L202.8 222.8L46.8 222.8L46.8 247.0L48.8 253.3L49.5 260.6L48.8 268.0L46.8 273.7L46.8 361.0L79.0 362.4L83.6 363.1L92.8 365.4L96.5 367.3L106.6 374.0L114.9 378.1L122.2 382.8L147.2 396.3L147.2 397.2Z" fill="#00ff9b"/>
<path d="M149.8 397.2L229.8 397.2L229.8 245.7L223.4 245.1L217.9 244.0L214.2 242.6L210.4 240.3L207.5 237.6L205.0 233.8L203.0 229.3L201.2 222.8L46.8 222.8L46.8 241.1L49.3 244.0L51.2 247.7L52.5 252.3L53.1 257.9L52.6 262.5L50.8 268.9L48.9 273.6L46.8 277.0L46.8 359.4L79.0 361.0L83.6 361.7L92.9 364.0L96.5 365.7L105.7 372.0L114.9 377.0L121.3 381.1L148.0 395.7L149.0 396.3L149.0 397.2Z" fill="#00ff8b"/>
<path d="M150.7 397.2L229.8 397.2L229.8 246.8L222.4 246.2L216.9 245.3L212.3 243.6L208.3 241.3L205.4 238.5L203.1 234.8L201.3 230.1L199.5 222.8L46.8 222.8L46.8 237.2L50.6 240.3L53.7 244.9L55.6 250.5L56.2 256.0L55.6 261.6L53.0 268.9L50.4 274.5L46.8 279.5L46.8 357.8L79.0 359.6L83.6 360.4L94.2 363.1L97.4 364.7L106.9 371.4L114.9 375.8L121.3 380.1L148.9 395.2L150.7 396.3L150.7 397.2Z" fill="#00ff7b"/>
<path d="M152.6 397.2L229.8 397.2L229.8 247.9L221.5 247.4L215.1 246.3L209.6 244.5L205.5 242.2L202.8 239.4L200.8 235.7L199.2 230.2L197.7 222.8L46.8 222.8L46.8 233.9L52.3 237.5L56.0 242.2L58.4 248.6L59.1 255.1L58.2 261.6L55.6 268.0L51.7 275.4L46.8 281.7L46.8 356.2L79.0 358.3L82.7 358.8L94.6 361.8L97.4 363.1L107.5 370.4L121.3 379.0L149.8 394.7L152.3 396.3L152.3 397.2Z" fill="#00ff6b"/>
<path d="M154.4 397.2L227.1 397.2L227.1 396.3L229.8 394.5L229.8 249.0L220.6 248.6L213.9 247.7L206.5 245.9L202.2 243.8L199.9 241.3L198.5 238.1L195.9 222.8L46.8 222.8L46.8 230.8L53.0 233.9L55.3 235.7L57.6 238.5L59.2 241.3L60.7 244.9L61.5 248.6L62.0 253.3L61.2 259.7L58.8 266.2L52.9 276.3L46.8 283.7L46.8 354.4L59.7 355.7L79.9 357.0L95.5 360.8L98.3 362.2L107.5 369.1L121.3 377.9L140.6 388.2L150.7 394.1L153.9 396.3L153.9 397.2ZM180.7 264.3L179.2 263.8L178.1 262.5L177.9 261.6L178.4 259.7L179.7 257.9L182.0 255.9L183.8 255.1L185.7 255.5L186.6 256.2L187.3 257.9L187.3 259.7L186.7 261.6L184.7 263.6L182.9 264.3L181.1 264.4Z" fill="#00ff5b"/>
<path d="M156.2 397.2L224.0 397.2L224.0 396.3L229.8 392.5L229.8 250.1L218.8 249.8L204.1 248.5L197.6 249.0L196.5 249.6L195.2 251.4L192.3 262.5L191.1 265.2L189.3 267.8L186.6 269.5L180.1 270.7L177.4 270.7L173.7 269.6L170.5 267.1L169.1 264.3L169.2 260.6L171.3 256.9L176.0 253.3L182.0 250.4L191.2 248.1L193.6 246.8L194.5 244.0L194.9 238.5L193.9 222.8L46.8 222.8L46.8 227.9L51.4 229.3L55.1 231.1L58.5 233.9L61.2 237.6L62.8 241.3L63.9 244.9L64.8 253.3L63.9 259.7L61.1 266.2L54.1 277.2L46.8 285.7L46.8 352.6L58.8 354.1L80.8 355.8L96.5 359.8L99.2 361.4L108.7 368.6L120.4 376.3L143.4 388.6L154.3 395.4L155.5 396.3L155.5 397.2Z" fill="#00ff4b"/>
<path d="M157.2 397.2L221.0 397.2L221.0 396.3L229.8 390.5L229.8 251.2L209.6 251.0L205.9 251.4L203.1 252.3L200.4 254.2L198.5 256.5L193.0 268.6L190.3 272.2L188.4 273.4L186.6 273.9L180.1 274.5L175.5 274.2L172.6 273.6L170.0 272.3L167.3 270.2L165.3 268.0L164.1 266.2L163.2 263.4L163.1 261.6L163.6 258.9L165.9 255.1L169.1 252.3L174.1 249.6L185.0 244.9L187.5 243.4L189.3 241.6L191.0 238.5L191.8 234.8L192.1 230.2L191.8 222.8L46.8 222.8L46.8 225.1L52.3 226.1L56.9 227.8L60.4 230.2L62.7 233.0L64.8 236.6L66.3 241.3L67.2 246.8L67.6 252.3L66.8 258.8L64.1 265.2L54.5 279.1L46.8 287.7L46.8 350.7L59.7 352.7L80.8 354.5L89.1 356.9L96.5 358.4L99.2 359.9L108.4 367.1L120.4 375.2L143.4 387.4L155.3 394.9L157.1 396.3L157.1 397.2Z" fill="#00ff3b"/>
<path d="M159.0 397.2L218.1 397.2L218.1 396.3L220.5 394.4L229.8 388.5L229.8 252.3L212.3 252.7L208.6 253.3L205.9 254.2L203.0 256.0L200.6 258.8L194.6 270.8L192.6 273.6L190.5 275.4L188.4 276.5L184.7 277.2L179.2 277.3L173.7 276.7L170.9 276.0L167.9 274.5L164.0 271.7L161.1 268.9L159.3 266.2L158.3 263.4L158.0 260.6L158.4 257.9L159.7 255.1L161.1 253.3L165.4 249.6L170.8 246.8L181.1 243.0L183.8 241.5L186.2 239.4L188.0 236.6L189.1 233.0L189.5 222.8L54.3 222.8L58.3 223.7L61.5 225.3L64.3 227.6L66.7 231.1L68.5 235.7L69.5 240.3L70.2 246.8L70.3 254.2L69.4 259.7L66.7 265.2L54.2 281.8L46.8 289.7L46.8 348.9L59.7 351.2L80.8 353.2L90.0 355.9L97.4 357.4L100.1 359.2L109.6 366.7L120.4 374.1L143.4 386.2L156.2 394.2L158.9 396.3L158.9 397.2Z" fill="#00ff2a"/>
<path d="M160.8 397.2L215.4 397.2L215.4 396.3L219.7 392.8L229.8 386.6L229.8 253.3L214.2 254.2L210.5 254.9L207.7 255.8L205.0 257.6L202.2 260.5L199.9 264.3L195.8 272.6L193.6 275.4L191.4 277.2L188.4 278.7L184.7 279.4L179.2 279.4L172.8 278.8L170.0 278.1L166.4 276.3L160.6 272.6L157.4 269.9L155.0 266.2L153.7 262.5L153.3 258.8L153.7 256.0L155.0 253.3L156.3 251.4L161.7 246.7L168.2 243.6L179.2 240.2L183.3 237.6L185.4 234.8L186.3 232.0L187.1 222.8L67.7 222.8L70.5 227.4L72.4 234.8L73.2 244.0L72.8 256.9L71.5 261.6L68.8 266.2L53.2 285.1L46.8 291.8L46.8 347.0L59.7 349.6L80.8 351.9L90.0 354.8L97.4 356.0L100.1 357.7L110.1 365.8L120.4 373.1L143.4 385.0L157.1 393.5L160.7 396.3L160.7 397.2Z" fill="#00ff1a"/>
<path d="M162.7 397.2L212.9 397.2L212.9 396.3L218.1 391.7L223.7 388.0L229.8 384.7L229.8 254.4L215.1 255.7L211.4 256.5L207.7 258.2L205.0 260.5L202.7 263.4L197.7 272.6L195.8 275.4L193.0 278.1L190.3 279.7L186.6 280.9L182.9 281.2L171.9 280.6L168.2 279.4L160.4 275.4L157.2 273.4L154.4 270.8L151.8 267.1L149.6 262.5L148.7 257.9L149.0 254.2L150.0 251.4L151.9 248.6L154.4 246.2L159.0 243.0L165.4 240.1L178.2 236.6L181.1 234.8L182.5 233.0L183.2 231.1L184.3 222.8L75.8 222.8L76.7 232.0L76.7 241.3L75.9 255.1L74.3 261.6L72.9 264.3L70.9 267.1L62.4 276.2L52.3 288.3L46.8 293.9L46.8 345.1L59.7 348.1L80.8 350.7L90.0 353.7L97.5 354.8L100.1 356.3L109.3 364.0L120.4 372.0L128.6 376.5L143.4 383.8L158.1 392.7L162.5 396.3L162.5 397.2Z" fill="#00ff0a"/>
<path d="M165.4 397.2L210.5 397.2L210.5 396.3L211.4 395.2L216.9 390.2L223.3 386.1L229.8 383.0L229.8 255.4L216.0 257.0L212.3 258.0L208.9 259.7L206.6 261.6L204.1 264.6L196.9 276.3L193.9 279.1L190.3 281.2L186.6 282.4L182.9 282.8L176.5 282.7L170.9 282.1L167.3 280.8L157.6 276.3L154.4 274.2L151.0 270.8L147.2 265.2L145.1 260.6L144.2 256.0L144.5 251.4L145.7 247.7L147.4 244.9L150.0 242.2L153.5 239.7L160.8 236.4L173.7 233.3L177.4 231.7L179.3 229.3L181.1 222.8L82.4 222.8L81.3 236.6L79.2 253.3L78.0 258.8L76.2 263.4L73.0 268.0L63.4 277.5L52.3 290.6L46.8 296.1L46.8 343.2L59.7 346.5L80.8 349.5L90.0 352.7L96.5 353.2L98.3 353.8L101.1 355.7L110.3 363.4L120.4 370.9L129.6 375.9L142.4 382.0L157.2 390.7L163.5 395.4L164.5 396.3L164.5 397.2Z" fill="#06ff00"/>
<path d="M167.3 397.2L208.2 397.2L208.2 396.3L210.5 393.4L216.0 388.5L222.4 384.5L229.8 381.3L229.8 256.4L217.8 258.0L213.2 259.4L210.5 260.8L207.7 263.0L205.7 265.2L197.9 277.2L194.8 280.0L191.2 282.2L187.5 283.5L182.9 284.1L176.5 284.2L170.9 283.6L161.0 280.0L156.2 277.9L152.4 275.4L148.4 271.7L144.1 266.2L141.2 260.6L139.5 254.2L139.4 248.6L140.2 244.9L141.8 241.3L144.3 237.9L147.0 235.6L150.7 233.5L154.4 232.1L170.9 228.1L174.6 225.7L176.7 222.8L89.1 222.8L86.1 238.5L82.4 254.2L80.6 259.7L78.4 264.3L75.0 268.9L63.4 279.7L53.1 292.0L46.8 298.4L46.8 341.3L60.6 345.1L80.8 348.2L90.0 351.7L96.5 352.1L98.3 352.5L101.1 354.3L110.2 362.1L120.4 369.8L129.6 374.8L142.4 380.8L158.2 389.8L164.7 394.4L166.6 396.3L166.6 397.2Z" fill="#18ff00"/>
<path d="M169.1 397.2L205.9 397.2L205.9 396.3L208.7 392.6L214.6 387.0L221.5 382.9L229.8 379.6L229.8 257.4L218.8 259.2L214.3 260.6L211.4 262.2L206.8 266.4L198.5 278.3L195.6 280.9L191.2 283.4L187.5 284.7L182.0 285.5L174.6 285.5L170.0 284.8L155.3 279.6L150.7 276.8L145.9 272.6L140.3 266.2L136.8 260.6L134.4 254.2L133.4 247.7L133.5 242.2L135.0 236.6L137.0 233.0L140.6 229.3L143.8 227.4L148.0 226.0L166.6 222.8L97.2 222.8L92.3 237.6L86.5 253.3L83.7 259.7L80.6 265.2L76.1 270.8L63.4 281.8L53.2 294.5L46.8 300.9L46.8 339.4L60.6 343.5L80.8 347.0L90.0 350.7L92.8 351.0L96.5 350.9L99.2 351.7L102.9 354.4L110.7 361.2L120.4 368.6L129.6 373.7L143.4 380.1L159.9 389.2L166.3 393.8L168.9 396.3L168.9 397.2Z" fill="#29ff00"/>
<path d="M171.9 397.2L203.5 397.2L203.5 396.3L206.9 391.7L210.3 388.0L213.2 385.5L220.2 381.5L229.8 377.9L229.8 258.4L219.7 260.3L215.9 261.6L212.3 263.5L207.7 267.7L201.0 277.2L198.5 280.0L194.8 282.8L189.3 285.3L182.9 286.6L173.7 286.7L170.0 286.2L159.0 282.9L152.0 280.0L145.3 275.4L136.6 267.1L132.0 260.6L129.3 255.1L127.2 249.6L125.2 243.1L124.0 237.6L123.5 233.0L123.6 229.3L124.3 225.6L125.4 222.8L110.7 222.8L98.3 241.3L86.7 260.6L82.3 267.1L77.1 272.6L64.3 282.9L61.2 286.5L54.2 296.1L46.8 303.4L46.8 337.3L61.5 342.0L80.8 345.6L90.0 349.6L92.8 350.0L96.5 349.8L99.2 350.5L102.9 353.0L111.2 360.3L121.3 368.0L130.5 373.0L143.4 378.8L161.7 388.6L168.6 393.5L171.3 396.3L171.3 397.2Z" fill="#3bff00"/>
<path d="M174.6 397.2L201.0 397.2L201.0 396.3L204.9 390.7L208.1 387.0L211.4 384.1L218.8 380.0L229.8 376.1L229.8 259.4L219.8 261.6L216.0 263.1L213.2 264.7L208.6 268.9L200.2 280.0L197.6 282.2L193.9 284.5L189.3 286.4L184.7 287.5L179.2 288.1L172.8 287.9L156.2 283.8L151.6 282.0L147.9 280.0L135.4 270.8L132.3 268.0L128.5 263.4L121.3 252.5L116.7 247.5L113.9 245.8L111.2 245.1L108.4 245.3L105.7 246.3L102.0 248.7L98.3 252.1L84.8 268.0L80.8 272.2L77.0 275.4L68.0 281.7L64.6 284.6L62.3 287.4L55.4 297.5L46.8 306.2L46.8 335.1L62.4 340.6L81.7 344.5L90.0 348.6L92.8 349.0L97.4 348.8L99.2 349.3L103.4 352.0L111.2 359.0L121.3 366.7L129.6 371.4L143.4 377.6L164.1 388.0L170.4 392.6L173.9 396.3L173.9 397.2Z" fill="#4cff00"/>
<path d="M177.4 397.2L198.2 397.2L198.2 396.3L202.1 390.7L206.6 385.2L209.7 382.4L213.2 380.3L217.8 378.2L229.8 374.4L229.8 260.4L220.6 262.6L214.2 265.8L209.6 270.0L200.9 280.9L197.6 283.6L194.9 285.2L190.3 287.2L185.7 288.5L180.1 289.2L174.6 289.3L170.9 289.0L155.9 285.5L151.6 284.1L146.9 281.9L130.5 271.7L126.8 268.0L119.4 259.3L116.7 256.9L113.9 255.3L111.2 254.5L108.4 254.4L105.7 254.9L102.9 256.2L99.2 258.5L94.6 262.3L80.8 275.2L69.8 282.4L66.1 285.3L63.4 288.5L56.9 298.9L46.8 309.3L46.8 332.6L55.4 336.3L63.3 339.1L82.7 343.4L90.0 347.4L92.8 347.8L97.4 347.6L100.1 348.5L104.7 351.6L111.2 357.6L119.3 364.0L124.0 367.1L132.0 371.4L162.7 385.2L167.8 388.0L173.7 392.8L176.8 396.3L176.8 397.2Z" fill="#5dff00"/>
<path d="M181.1 397.2L194.7 397.2L194.7 396.3L198.1 391.7L204.8 383.4L207.9 380.6L211.4 378.5L216.0 376.6L229.8 372.6L229.8 261.4L222.1 263.4L216.0 266.3L211.4 270.0L203.3 280.0L199.5 283.6L196.5 285.5L192.1 287.6L184.7 289.8L177.4 290.5L170.9 290.3L164.5 288.7L155.3 287.2L149.9 285.5L145.2 283.4L138.8 279.6L129.6 275.7L124.9 271.7L116.7 263.5L113.0 261.5L109.3 260.8L106.6 261.0L103.8 261.9L94.6 267.0L90.9 269.6L82.7 276.7L70.7 283.9L66.1 287.6L63.5 291.1L60.3 297.5L58.4 300.3L46.8 312.9L46.8 329.6L54.4 333.5L63.4 337.3L82.7 342.0L90.9 346.4L97.4 346.3L100.1 347.2L104.7 350.2L111.8 356.6L120.0 363.1L127.3 367.7L133.2 370.7L151.6 379.0L164.5 383.9L170.0 386.7L175.5 391.0L180.5 396.3L180.5 397.2Z" fill="#6fff00"/>
<path d="M186.6 395.7L188.4 396.1L190.3 395.1L197.6 387.3L203.1 380.8L206.8 378.0L215.1 374.6L229.8 370.7L229.8 262.4L221.5 264.9L215.9 268.0L211.4 272.0L203.2 281.9L198.6 285.5L190.3 289.4L184.7 290.9L178.3 291.6L171.9 291.6L164.5 290.2L155.3 289.0L149.8 287.6L144.6 285.5L137.8 282.1L131.4 280.2L128.8 279.1L122.4 274.5L114.9 267.9L112.1 266.8L108.4 266.2L104.7 266.8L93.7 271.5L83.6 278.9L71.6 285.5L67.0 289.1L65.0 292.0L60.3 301.2L50.4 313.2L47.4 317.8L46.8 319.2L46.8 324.4L49.0 327.1L56.1 331.7L65.2 336.0L83.6 340.9L90.9 344.8L92.8 345.2L97.4 345.0L100.1 345.9L105.7 349.4L112.1 355.4L120.4 361.9L127.7 366.6L134.2 369.9L152.6 377.8L166.3 382.3L170.9 384.2L175.5 387.0L182.0 392.6L185.9 395.4Z" fill="#80ff00"/>
<path d="M185.7 388.1L188.4 388.2L191.2 386.9L194.9 384.1L201.5 377.8L206.4 375.1L213.2 372.8L229.8 368.8L229.8 263.5L222.4 265.9L216.9 268.9L212.3 273.1L204.1 282.8L199.5 286.3L190.3 290.5L184.7 291.9L178.3 292.7L171.9 292.8L164.5 291.6L154.4 290.7L149.8 289.7L145.2 288.2L137.8 285.1L128.6 282.3L123.2 279.1L113.9 272.6L111.2 271.6L107.5 271.2L102.0 272.3L93.7 275.3L83.6 281.6L72.5 287.2L69.8 289.2L68.0 291.0L66.1 293.9L61.5 303.0L54.2 313.2L51.8 317.8L51.2 320.6L51.7 323.4L52.7 325.2L55.5 328.0L60.9 331.7L67.0 334.7L83.6 339.5L91.9 343.4L97.4 343.6L101.1 345.0L106.1 348.3L113.0 354.5L121.5 361.2L127.7 365.2L134.2 368.6L154.4 376.9L172.5 381.5L185.1 388.0Z" fill="#91ff00"/>
<path d="M185.7 380.6L188.4 380.4L191.2 379.5L201.0 374.1L205.9 372.2L229.8 366.6L229.8 264.6L222.4 267.2L216.9 270.6L213.2 274.1L205.8 282.8L201.3 286.5L197.6 288.6L192.1 290.9L185.7 292.8L179.2 293.7L171.9 294.1L149.8 291.8L129.6 285.7L125.3 283.7L113.9 277.1L110.3 275.9L106.6 275.5L100.1 276.6L93.7 278.8L74.4 288.6L70.8 291.1L68.9 293.2L63.2 304.0L57.8 313.2L56.0 317.8L55.8 320.6L56.5 323.4L58.4 326.1L61.4 328.9L65.5 331.7L71.7 334.5L84.5 338.5L91.9 341.8L97.4 342.2L101.3 343.7L106.6 347.0L113.9 353.5L123.8 361.2L131.3 365.8L137.8 368.9L150.7 374.0L156.2 375.7L160.8 376.6L171.9 377.8L185.0 380.6Z" fill="#a3ff00"/>
<path d="M158.1 374.3L163.6 374.6L188.4 374.2L193.0 373.2L204.8 369.5L219.7 367.0L229.8 364.4L229.8 265.7L223.4 268.2L217.8 271.6L214.2 275.1L206.7 283.7L202.2 287.4L195.8 290.6L190.3 292.7L186.6 293.7L179.2 294.7L170.9 295.3L148.9 293.7L130.5 288.8L125.9 286.9L113.0 280.6L109.3 279.6L105.7 279.3L101.1 279.9L95.5 281.3L79.0 288.7L73.5 291.9L69.8 295.7L61.9 311.4L60.0 316.9L59.8 319.7L60.4 322.5L61.9 325.2L64.5 328.0L68.9 331.0L75.3 334.0L84.5 337.1L91.9 340.2L98.3 341.1L102.0 342.6L107.5 346.1L122.3 358.4L130.6 364.0L136.0 366.8L142.4 369.4L151.6 372.7L157.3 374.1Z" fill="#b4ff00"/>
<path d="M157.2 372.3L162.7 372.4L171.9 371.1L192.1 369.3L204.1 366.8L218.8 365.0L229.8 362.0L229.8 266.9L223.4 269.6L218.8 272.5L215.7 275.4L208.6 283.7L203.1 288.3L196.7 291.4L190.3 293.8L186.6 294.7L170.9 296.5L163.6 296.0L152.6 296.1L148.0 295.7L131.4 291.9L126.8 290.2L113.9 284.4L109.3 283.1L105.7 282.8L101.1 283.2L95.5 284.6L80.8 290.5L75.3 293.5L71.3 297.5L68.9 301.8L65.8 308.6L64.2 313.2L63.4 316.9L63.4 319.7L64.2 322.5L65.8 325.2L68.5 328.0L72.6 330.8L78.5 333.5L91.9 338.7L98.3 339.8L102.9 341.5L108.4 345.1L124.7 358.4L131.7 363.1L137.1 365.8L144.3 368.6L151.6 371.1L157.1 372.3Z" fill="#c5ff00"/>
<path d="M157.2 370.4L161.7 370.4L170.9 368.1L182.9 366.5L192.1 366.0L203.1 364.3L216.9 363.2L223.4 361.8L229.8 359.5L229.8 268.1L223.8 270.8L219.7 273.6L216.8 276.3L209.8 284.6L205.0 288.6L198.5 291.9L187.5 295.6L170.9 297.7L148.0 297.8L132.3 295.0L127.7 293.5L113.9 287.6L109.3 286.4L104.7 286.1L100.1 286.6L94.6 288.0L81.7 292.8L76.5 295.7L72.9 299.4L70.7 303.1L68.8 307.7L67.1 313.2L66.6 316.9L66.8 319.7L67.7 322.5L69.5 325.2L72.4 328.0L76.5 330.8L80.4 332.6L91.9 337.2L100.1 338.9L105.7 341.4L116.2 349.2L127.3 358.4L136.0 363.8L148.9 368.7L157.1 370.4Z" fill="#d7ff00"/>
<path d="M158.1 368.6L161.7 368.2L170.9 365.3L183.8 363.5L191.2 363.4L203.1 361.7L212.3 361.6L216.9 361.1L223.4 359.5L229.8 356.9L229.8 269.4L224.9 271.7L220.6 274.6L217.9 277.2L211.0 285.5L205.9 289.7L199.2 292.9L187.5 296.6L170.9 298.8L162.7 299.0L151.6 300.0L147.0 299.9L131.4 297.7L113.9 290.7L109.3 289.6L104.7 289.3L94.6 291.1L82.7 295.4L78.1 297.8L74.6 301.2L73.0 304.0L71.3 308.6L70.2 313.2L69.9 316.9L70.2 319.7L71.2 322.5L73.1 325.2L75.9 328.0L80.4 330.8L90.9 335.2L101.1 337.7L106.6 340.1L118.2 348.3L128.7 357.5L136.9 362.6L148.9 367.0L153.5 368.1L157.7 368.6Z" fill="#e8ff00"/>
<path d="M151.6 366.0L155.3 366.6L159.0 366.6L161.7 366.1L167.3 363.8L170.9 362.8L183.8 361.2L193.0 360.9L202.2 359.5L211.4 359.6L216.0 359.2L223.4 357.2L229.8 354.1L229.8 270.8L225.2 273.1L221.5 275.7L219.0 278.2L212.4 286.5L207.7 290.3L201.3 293.5L188.4 297.4L170.9 300.0L161.7 300.6L151.6 302.0L147.0 302.1L131.4 300.8L128.6 299.9L120.4 296.1L114.9 294.0L110.3 292.8L105.7 292.4L99.2 293.3L92.8 294.8L80.8 299.5L77.1 302.3L75.6 304.9L74.4 308.6L73.5 313.2L73.3 316.9L73.7 319.7L74.7 322.5L76.6 325.2L78.3 327.1L82.7 329.8L90.9 333.5L93.7 334.5L102.0 336.4L107.5 338.6L119.4 346.6L127.9 354.8L134.2 359.4L140.6 362.6L150.8 365.8Z" fill="#faff00"/>
<path d="M150.7 364.0L155.3 364.7L159.0 364.6L161.7 363.9L167.3 361.5L170.9 360.7L178.3 360.1L183.8 359.2L192.1 358.9L202.2 357.4L211.4 357.6L216.0 357.1L223.4 354.9L229.8 351.1L229.8 272.3L225.8 274.5L222.1 277.2L214.2 287.1L209.5 291.1L205.9 293.1L202.2 294.6L189.3 298.2L170.9 301.2L161.2 302.2L150.7 304.0L134.2 304.0L128.6 303.2L120.4 299.2L113.9 296.8L109.3 295.8L105.7 295.6L98.3 296.7L93.7 297.8L82.7 302.5L79.9 304.4L79.0 305.9L78.2 308.6L77.4 313.2L77.3 316.9L78.5 322.5L81.0 326.1L84.5 328.5L92.8 332.4L103.8 335.1L109.3 337.3L120.4 344.4L128.6 352.9L135.1 357.9L141.5 361.2L150.5 364.0Z" fill="#fff300"/>
<path d="M150.7 362.1L154.4 362.7L158.1 362.6L160.8 362.1L166.3 359.7L170.0 358.8L191.2 357.1L202.2 355.6L210.5 355.7L215.1 355.3L218.8 354.4L222.4 352.9L226.1 350.7L229.8 347.8L229.8 273.9L226.1 276.1L223.6 278.2L215.5 288.3L210.5 292.6L203.6 295.7L191.2 298.9L162.7 303.4L150.7 305.9L133.2 306.8L127.7 306.0L118.5 301.8L113.0 299.9L108.4 299.0L104.7 299.0L98.3 300.0L93.7 301.4L86.8 304.9L83.6 307.7L82.6 309.5L81.7 312.3L81.5 317.8L82.9 323.4L85.4 326.1L93.9 330.8L106.6 333.9L112.1 336.1L122.2 342.8L130.5 352.0L136.0 356.4L142.4 359.7L150.7 362.1Z" fill="#ffe200"/>
<path d="M151.6 360.3L155.3 360.6L159.0 360.3L166.3 357.8L170.0 357.1L178.3 356.7L189.3 355.6L201.3 353.9L210.5 353.9L214.2 353.5L217.8 352.5L221.5 350.9L225.2 348.4L228.4 345.5L229.8 343.9L229.8 275.7L224.4 280.0L217.8 288.6L214.2 292.4L209.6 295.2L202.7 297.5L188.4 300.5L163.6 304.6L149.8 307.9L133.2 309.6L129.6 309.6L126.8 309.0L115.8 304.4L111.2 303.0L107.5 302.4L103.8 302.5L99.2 303.3L94.6 304.9L90.9 307.0L88.0 309.5L86.0 313.2L85.5 317.8L86.8 322.5L89.2 325.2L91.9 327.1L95.5 328.9L109.3 332.2L115.8 335.0L120.4 337.9L123.1 340.1L131.4 349.9L136.9 354.6L143.4 358.0L151.4 360.3Z" fill="#ffd100"/>
<path d="M153.5 358.4L159.0 358.1L165.4 356.2L169.1 355.5L180.1 355.0L189.3 354.0L200.4 352.2L209.6 352.2L213.2 351.8L216.9 350.7L220.0 349.2L222.7 347.4L225.7 344.6L229.8 338.7L229.8 277.9L226.1 281.2L219.5 290.2L216.0 293.8L211.5 296.6L206.0 298.5L166.3 305.4L149.8 309.9L133.2 312.7L128.6 313.0L125.0 312.4L112.1 307.3L105.7 306.1L101.1 306.6L97.4 307.9L94.5 309.5L91.7 312.3L90.3 315.1L90.1 318.8L91.1 321.5L93.7 324.5L98.3 326.9L111.2 329.5L117.6 332.0L121.3 334.5L124.0 337.0L132.3 347.4L137.8 352.6L141.2 354.8L145.2 356.5L149.8 357.9L153.4 358.4Z" fill="#ffc100"/>
<path d="M150.7 355.9L157.2 356.3L167.3 354.1L182.9 353.3L199.5 350.5L211.4 350.3L214.2 349.6L217.3 348.3L222.2 344.6L225.2 340.9L227.2 337.2L228.7 332.6L229.8 326.1L229.8 280.6L227.0 283.7L221.4 292.0L218.8 295.0L215.1 297.7L209.6 299.7L173.7 305.1L163.6 307.5L149.8 311.9L126.8 317.6L123.1 317.7L120.4 317.1L111.3 312.3L106.6 310.9L103.8 310.7L101.1 311.3L99.0 312.3L97.0 314.2L95.9 316.0L95.7 318.8L96.5 320.6L98.2 322.5L100.1 323.5L102.9 324.3L113.9 325.0L116.7 325.6L119.4 326.9L124.0 331.3L133.3 344.6L137.5 349.2L143.4 353.3L149.8 355.7Z" fill="#ffb000"/>
<path d="M152.6 353.9L158.1 354.0L169.1 352.3L182.0 352.1L187.5 351.3L199.5 348.7L210.5 348.6L214.5 347.4L218.7 344.6L221.9 340.9L224.3 336.3L225.7 330.8L227.2 319.7L228.1 316.9L229.8 313.9L229.8 284.4L222.4 296.4L219.7 299.0L216.9 300.5L210.5 302.1L194.9 303.0L183.8 304.4L169.1 307.3L138.8 317.8L135.0 319.7L131.1 322.5L129.7 324.3L129.0 326.1L129.2 329.8L131.7 336.3L135.5 342.8L138.8 346.8L142.9 350.1L147.0 352.3L152.3 353.8Z" fill="#ff9f00"/>
<path d="M151.6 351.2L157.2 351.9L168.2 350.7L182.0 350.7L187.5 349.8L199.5 346.8L209.6 346.8L212.3 346.1L214.2 345.2L216.3 343.7L218.8 340.8L220.7 337.2L221.8 333.5L224.0 311.4L223.9 308.6L223.4 307.1L222.4 306.4L219.7 305.7L199.5 304.3L192.1 304.6L181.1 305.9L172.8 307.6L166.2 309.5L146.5 317.8L140.6 320.8L137.2 323.4L134.9 327.1L134.4 330.8L135.4 335.4L138.0 340.9L141.7 345.5L146.1 348.9L151.2 351.1ZM229.8 303.3L229.8 291.6L228.1 299.4L228.5 302.2L229.4 303.1Z" fill="#ff8e00"/>
<path d="M155.3 349.3L159.0 349.5L168.2 349.0L182.0 349.3L187.4 348.3L199.5 344.7L202.2 344.5L208.6 344.9L212.3 343.8L214.2 342.4L216.1 340.0L217.5 337.2L218.6 333.5L219.1 319.7L218.5 316.0L217.4 313.2L216.0 311.4L213.4 309.5L206.8 307.3L196.7 305.8L187.5 306.2L178.3 307.5L170.0 309.6L161.3 313.2L148.7 319.7L143.3 323.4L140.8 326.1L139.3 329.8L139.4 334.5L141.6 340.0L145.2 344.5L149.4 347.4L154.6 349.2Z" fill="#ff7d00"/>
<path d="M172.8 347.4L179.2 347.9L183.8 347.6L188.2 346.4L199.5 342.6L202.2 342.2L208.6 342.5L210.5 341.9L211.9 340.9L213.3 339.1L214.6 336.3L215.5 330.8L214.9 319.7L214.0 316.9L212.3 314.2L210.3 312.3L207.4 310.5L204.1 309.1L199.5 307.9L192.1 307.2L181.1 308.2L171.9 310.3L165.0 313.2L152.2 320.6L146.8 325.2L144.5 328.9L144.0 330.8L143.9 333.5L144.4 336.3L145.6 339.1L148.9 343.1L152.6 345.5L156.2 346.8L172.0 347.4Z" fill="#ff6c00"/>
<path d="M171.9 345.6L179.2 346.3L183.8 345.9L188.5 344.6L199.5 340.4L202.2 339.8L206.8 339.6L208.6 338.9L210.3 337.2L211.2 335.4L211.9 332.6L212.1 329.8L211.3 320.6L210.2 317.8L209.0 316.0L204.9 312.3L198.5 309.6L193.0 308.7L184.7 308.9L176.5 310.3L170.4 312.3L163.5 316.0L155.5 321.5L151.6 325.2L150.2 327.1L148.9 329.8L148.5 331.7L148.6 334.5L149.5 337.2L150.6 339.1L153.3 341.8L157.2 343.8L160.8 344.5L171.4 345.5Z" fill="#ff5b00"/>
<path d="M172.8 343.8L179.2 344.5L184.7 344.0L190.3 342.1L205.9 335.3L207.4 333.5L208.2 331.7L208.7 327.1L207.9 321.5L205.6 316.9L202.2 313.8L197.5 311.4L192.1 310.2L185.7 310.1L179.2 311.0L172.8 312.9L167.3 315.8L161.8 319.7L156.8 324.3L154.3 328.0L153.2 331.7L153.7 335.4L155.4 338.1L159.0 340.7L163.6 342.1L172.0 343.7Z" fill="#ff4a00"/>
<path d="M173.7 341.9L180.1 342.7L185.7 341.8L192.5 339.1L201.9 333.5L204.2 330.8L204.9 328.9L205.2 326.1L204.5 321.5L203.1 318.8L201.7 316.9L198.3 314.2L194.0 312.3L189.3 311.5L184.7 311.5L179.2 312.4L173.8 314.2L170.0 316.1L165.2 319.7L161.5 323.4L159.1 327.1L158.0 330.8L158.2 333.5L159.8 336.3L162.7 338.5L166.3 340.0L173.2 341.8Z" fill="#ff3900"/>
<path d="M175.5 340.1L181.1 340.6L186.6 339.5L193.3 336.3L198.5 332.4L201.0 328.9L201.7 325.2L201.3 322.5L200.6 320.6L197.9 316.9L194.9 314.9L191.2 313.5L186.6 312.9L182.9 313.1L178.3 314.2L173.8 316.0L170.8 317.8L167.5 320.6L164.5 324.3L163.0 327.1L162.4 329.8L162.9 332.6L164.8 335.4L167.3 337.2L170.9 338.8L175.0 340.0Z" fill="#ff2800"/>
<path d="M178.3 338.3L182.9 338.3L187.5 337.0L192.1 334.4L196.1 330.8L198.0 327.1L198.1 323.4L196.6 319.7L193.9 317.0L191.2 315.6L188.4 314.8L184.7 314.5L182.0 314.8L178.0 316.0L174.3 317.8L171.8 319.7L169.2 322.5L167.5 325.2L166.8 327.1L166.6 329.8L167.3 331.9L168.3 333.5L170.9 335.7L174.2 337.2L177.6 338.1Z" fill="#ff1700"/>
<path d="M177.4 335.4L181.1 336.0L185.1 335.4L189.1 333.5L192.4 330.8L194.2 328.0L194.9 324.3L194.2 321.5L192.1 318.9L190.3 317.7L187.5 316.6L182.9 316.3L180.1 317.1L177.4 318.4L173.3 321.5L172.0 323.4L170.8 326.1L170.5 328.0L170.8 329.8L172.8 332.8L175.1 334.5L177.4 335.4Z" fill="#ff0600"/>
<path d="M180.1 332.8L182.9 333.0L185.7 332.3L188.4 330.5L190.5 328.0L191.4 325.2L191.2 323.2L189.7 320.6L187.5 319.0L184.7 318.1L181.3 318.8L178.3 320.6L175.7 323.4L174.7 326.1L175.0 328.9L176.5 331.0L179.3 332.6Z" fill="#ff0000"/>
<path d="M46.8 383.9L79.0 386.7L84.5 387.6L88.2 388.8L91.3 390.7L97.6 396.3L97.6 397.2M46.8 371.1L58.8 372.2L78.1 372.9L85.4 374.3L90.9 376.6L99.3 381.5L120.4 389.8L132.0 396.3L132.0 397.2M229.8 236.8L223.4 234.3L219.9 232.0L216.7 228.3L213.2 222.8M46.8 359.4L79.0 361.0L83.6 361.7L92.9 364.0L96.5 365.7L105.7 372.0L114.9 377.0L121.3 381.1L148.0 395.7L149.0 396.3L149.0 397.2M229.8 245.7L223.4 245.1L217.9 244.0L214.2 242.6L210.4 240.3L207.5 237.6L205.0 233.8L203.0 229.3L201.2 222.8M46.8 241.1L49.3 244.0L51.2 247.7L52.5 252.3L53.1 257.9L52.6 262.5L50.8 268.9L48.9 273.6L46.8 277.0M212.9 397.2L212.9 396.3L218.1 391.7L223.7 388.0L229.8 384.7M46.8 345.1L59.7 348.1L80.8 350.7L90.0 353.7L97.5 354.8L100.1 356.3L109.3 364.0L120.4 372.0L128.6 376.5L143.4 383.8L158.1 392.7L162.5 396.3L162.5 397.2M229.8 254.4L215.1 255.7L211.4 256.5L207.7 258.2L205.0 260.5L203.1 262.7L197.6 272.8L195.0 276.3L191.4 279.1L187.5 280.7L180.1 281.3L170.9 280.4L163.8 277.2L157.4 273.6L155.2 271.7L153.0 268.9L149.6 262.5L148.7 256.9L149.0 254.2L150.0 251.4L151.6 248.9L153.7 246.8L160.8 242.0L166.3 239.8L177.4 237.0L180.1 235.6L182.0 233.7L183.2 231.1L184.3 222.8M75.8 222.8L76.7 232.0L76.7 241.3L75.9 255.1L74.3 261.6L72.9 264.3L70.9 267.1L62.4 276.2L52.3 288.3L46.8 293.9M46.8 324.4L48.0 326.1L51.4 328.9L57.8 332.6L63.6 335.4L69.2 337.2L83.6 340.9L90.9 344.8L92.8 345.2L97.4 345.0L100.1 345.9L105.7 349.4L112.1 355.4L120.4 361.9L127.7 366.6L134.2 369.9L152.6 377.8L166.3 382.3L170.9 384.2L175.5 387.0L183.8 394.0L187.5 396.0L189.3 395.7L191.2 394.3L203.1 380.8L206.8 378.0L215.1 374.6L229.8 370.7M229.8 262.4L221.5 264.9L215.9 268.0L211.4 272.0L203.2 281.9L197.6 286.1L192.1 288.7L187.5 290.3L182.9 291.1L176.5 291.6L170.0 291.4L164.5 290.2L154.4 288.8L149.1 287.4L137.8 282.1L131.4 280.2L128.6 279.0L122.4 274.5L116.3 268.9L113.9 267.5L109.3 266.3L106.6 266.3L104.7 266.8L93.7 271.5L83.2 279.1L71.6 285.5L68.0 288.2L65.0 292.0L60.3 301.2L49.7 314.2L46.8 319.2M229.8 272.3L225.8 274.5L222.1 277.2L214.7 286.5L210.8 290.2L205.9 293.1L198.8 295.7L185.7 298.9L148.0 304.2L130.5 303.7L127.7 302.8L119.4 298.8L113.0 296.6L106.6 295.6L101.1 296.2L92.8 298.2L83.4 302.2L80.3 304.0L79.0 305.8L78.4 307.7L77.3 316.0L77.7 319.7L79.0 323.4L80.2 325.2L82.7 327.4L92.8 332.4L103.8 335.1L109.3 337.3L120.4 344.4L128.6 352.9L134.5 357.5L140.6 360.8L149.8 363.8L154.4 364.6L159.0 364.6L161.7 363.9L167.3 361.5L170.9 360.7L178.3 360.1L183.8 359.2L192.1 358.9L202.2 357.4L211.4 357.6L215.1 357.3L222.4 355.3L226.1 353.5L229.8 351.1M172.8 347.4L179.2 347.9L183.8 347.6L188.2 346.4L199.5 342.6L202.2 342.2L208.6 342.5L210.5 341.9L211.9 340.9L213.3 339.1L214.6 336.3L215.5 330.8L214.9 319.7L214.0 316.9L212.3 314.2L210.3 312.3L207.4 310.5L204.1 309.1L199.5 307.9L192.1 307.2L181.1 308.2L171.9 310.3L165.0 313.2L152.2 320.6L146.8 325.2L144.5 328.9L144.0 330.8L143.9 333.5L144.4 336.3L145.6 339.1L148.9 343.1L152.6 345.5L156.2 346.8L172.0 347.4" fill="none" stroke="#5a5a5a" stroke-width="0.55" stroke-opacity="0.8"/>
<circle cx="92.55" cy="362.4" r="1.1" fill="#111"/>
<circle cx="92.55" cy="321.55" r="1.1" fill="#111"/>
<circle cx="92.55" cy="272.1" r="1.1" fill="#111"/>
<circle cx="138.3" cy="362.4" r="1.1" fill="#111"/>
<circle cx="138.3" cy="321.55" r="1.1" fill="#111"/>
<circle cx="138.3" cy="272.1" r="1.1" fill="#111"/>
<circle cx="184.05" cy="362.4" r="1.1" fill="#111"/>
<circle cx="184.05" cy="321.55" r="1.1" fill="#111"/>
<circle cx="184.05" cy="272.1" r="1.1" fill="#111"/>
<rect x="46.8" y="222.8" width="183" height="174.4" fill="none" stroke="#3a3a3a" stroke-width="1.1"/>
<path d="M46.8 397.2v3.2M69.67 397.2v3.2M92.55 397.2v3.2M115.42 397.2v3.2M138.3 397.2v3.2M161.18 397.2v3.2M184.05 397.2v3.2M206.93 397.2v3.2M229.8 397.2v3.2M58.24 397.2v1.8M81.11 397.2v1.8M103.99 397.2v1.8M126.86 397.2v1.8M149.74 397.2v1.8M172.61 397.2v1.8M195.49 397.2v1.8M218.36 397.2v1.8M46.8 379.6h-3.2M46.8 358.1h-3.2M46.8 336.6h-3.2M46.8 315.1h-3.2M46.8 293.6h-3.2M46.8 272.1h-3.2M46.8 250.6h-3.2M46.8 229.1h-3.2M46.8 390.35h-1.8M46.8 368.85h-1.8M46.8 347.35h-1.8M46.8 325.85h-1.8M46.8 304.35h-1.8M46.8 282.85h-1.8M46.8 261.35h-1.8M46.8 239.85h-1.8" stroke="#3a3a3a" stroke-width="1" fill="none"/>
<text x="46.8" y="409.5" font-size="7.6" text-anchor="middle" fill="#262626">30</text>
<text x="69.67" y="409.5" font-size="7.6" text-anchor="middle" fill="#262626">35</text>
<text x="92.55" y="409.5" font-size="7.6" text-anchor="middle" fill="#262626">40</text>
<text x="115.42" y="409.5" font-size="7.6" text-anchor="middle" fill="#262626">45</text>
<text x="138.3" y="409.5" font-size="7.6" text-anchor="middle" fill="#262626">50</text>
<text x="161.18" y="409.5" font-size="7.6" text-anchor="middle" fill="#262626">55</text>
<text x="184.05" y="409.5" font-size="7.6" text-anchor="middle" fill="#262626">60</text>
<text x="206.93" y="409.5" font-size="7.6" text-anchor="middle" fill="#262626">65</text>
<text x="229.8" y="409.5" font-size="7.6" text-anchor="middle" fill="#262626">70</text>
<text x="41.3" y="382.9" font-size="7.6" text-anchor="end" fill="#262626">40</text>
<text x="41.3" y="361.4" font-size="7.6" text-anchor="end" fill="#262626">42</text>
<text x="41.3" y="339.9" font-size="7.6" text-anchor="end" fill="#262626">44</text>
<text x="41.3" y="318.4" font-size="7.6" text-anchor="end" fill="#262626">46</text>
<text x="41.3" y="296.9" font-size="7.6" text-anchor="end" fill="#262626">48</text>
<text x="41.3" y="275.4" font-size="7.6" text-anchor="end" fill="#262626">50</text>
<text x="41.3" y="253.9" font-size="7.6" text-anchor="end" fill="#262626">52</text>
<text x="41.3" y="232.4" font-size="7.6" text-anchor="end" fill="#262626">54</text>
<text class="t" x="144.9" y="420.6" font-size="9.1" text-anchor="middle" fill="#111">Proportion of soybean oil polyols (%)</text>
<text class="t" transform="translate(29.2 310.2) rotate(-90)" font-size="9.1" text-anchor="middle" fill="#111">Proportion of PAPI (%)</text>
<text class="t" x="5" y="236.5" font-size="13.5" fill="#111">(c)</text>
<rect x="240.5" y="391.43" width="14.6" height="2.92" fill="#0000f4"/>
<rect x="240.5" y="388.82" width="14.6" height="2.92" fill="#0006ff"/>
<rect x="240.5" y="386.2" width="14.6" height="2.92" fill="#0016ff"/>
<rect x="240.5" y="383.59" width="14.6" height="2.92" fill="#0025ff"/>
<rect x="240.5" y="380.97" width="14.6" height="2.92" fill="#0035ff"/>
<rect x="240.5" y="378.36" width="14.6" height="2.92" fill="#0045ff"/>
<rect x="240.5" y="375.74" width="14.6" height="2.92" fill="#0055ff"/>
<rect x="240.5" y="373.12" width="14.6" height="2.92" fill="#0064ff"/>
<rect x="240.5" y="370.51" width="14.6" height="2.92" fill="#0074ff"/>
<rect x="240.5" y="367.89" width="14.6" height="2.92" fill="#0084ff"/>
<rect x="240.5" y="365.28" width="14.6" height="2.92" fill="#0094ff"/>
<rect x="240.5" y="362.66" width="14.6" height="2.92" fill="#00a3ff"/>
<rect x="240.5" y="360.05" width="14.6" height="2.92" fill="#00b3ff"/>
<rect x="240.5" y="357.43" width="14.6" height="2.92" fill="#00c3ff"/>
<rect x="240.5" y="354.82" width="14.6" height="2.92" fill="#00d3ff"/>
<rect x="240.5" y="352.2" width="14.6" height="2.92" fill="#00e2ff"/>
<rect x="240.5" y="349.58" width="14.6" height="2.92" fill="#00f2ff"/>
<rect x="240.5" y="346.97" width="14.6" height="2.92" fill="#00fffc"/>
<rect x="240.5" y="344.35" width="14.6" height="2.92" fill="#00ffec"/>
<rect x="240.5" y="341.74" width="14.6" height="2.92" fill="#00ffdc"/>
<rect x="240.5" y="339.12" width="14.6" height="2.92" fill="#00ffcc"/>
<rect x="240.5" y="336.51" width="14.6" height="2.92" fill="#00ffbc"/>
<rect x="240.5" y="333.89" width="14.6" height="2.92" fill="#00ffab"/>
<rect x="240.5" y="331.28" width="14.6" height="2.92" fill="#00ff9b"/>
<rect x="240.5" y="328.66" width="14.6" height="2.92" fill="#00ff8b"/>
<rect x="240.5" y="326.04" width="14.6" height="2.92" fill="#00ff7b"/>
<rect x="240.5" y="323.43" width="14.6" height="2.92" fill="#00ff6b"/>
<rect x="240.5" y="320.81" width="14.6" height="2.92" fill="#00ff5b"/>
<rect x="240.5" y="318.2" width="14.6" height="2.92" fill="#00ff4b"/>
<rect x="240.5" y="315.58" width="14.6" height="2.92" fill="#00ff3b"/>
<rect x="240.5" y="312.97" width="14.6" height="2.92" fill="#00ff2a"/>
<rect x="240.5" y="310.35" width="14.6" height="2.92" fill="#00ff1a"/>
<rect x="240.5" y="307.73" width="14.6" height="2.92" fill="#00ff0a"/>
<rect x="240.5" y="305.12" width="14.6" height="2.92" fill="#06ff00"/>
<rect x="240.5" y="302.5" width="14.6" height="2.92" fill="#18ff00"/>
<rect x="240.5" y="299.89" width="14.6" height="2.92" fill="#29ff00"/>
<rect x="240.5" y="297.27" width="14.6" height="2.92" fill="#3bff00"/>
<rect x="240.5" y="294.66" width="14.6" height="2.92" fill="#4cff00"/>
<rect x="240.5" y="292.04" width="14.6" height="2.92" fill="#5dff00"/>
<rect x="240.5" y="289.43" width="14.6" height="2.92" fill="#6fff00"/>
<rect x="240.5" y="286.81" width="14.6" height="2.92" fill="#80ff00"/>
<rect x="240.5" y="284.19" width="14.6" height="2.92" fill="#91ff00"/>
<rect x="240.5" y="281.58" width="14.6" height="2.92" fill="#a3ff00"/>
<rect x="240.5" y="278.96" width="14.6" height="2.92" fill="#b4ff00"/>
<rect x="240.5" y="276.35" width="14.6" height="2.92" fill="#c5ff00"/>
<rect x="240.5" y="273.73" width="14.6" height="2.92" fill="#d7ff00"/>
<rect x="240.5" y="271.12" width="14.6" height="2.92" fill="#e8ff00"/>
<rect x="240.5" y="268.5" width="14.6" height="2.92" fill="#faff00"/>
<rect x="240.5" y="265.88" width="14.6" height="2.92" fill="#fff300"/>
<rect x="240.5" y="263.27" width="14.6" height="2.92" fill="#ffe200"/>
<rect x="240.5" y="260.65" width="14.6" height="2.92" fill="#ffd100"/>
<rect x="240.5" y="258.04" width="14.6" height="2.92" fill="#ffc100"/>
<rect x="240.5" y="255.42" width="14.6" height="2.92" fill="#ffb000"/>
<rect x="240.5" y="252.81" width="14.6" height="2.92" fill="#ff9f00"/>
<rect x="240.5" y="250.19" width="14.6" height="2.92" fill="#ff8e00"/>
<rect x="240.5" y="247.58" width="14.6" height="2.92" fill="#ff7d00"/>
<rect x="240.5" y="244.96" width="14.6" height="2.92" fill="#ff6c00"/>
<rect x="240.5" y="242.34" width="14.6" height="2.92" fill="#ff5b00"/>
<rect x="240.5" y="239.73" width="14.6" height="2.92" fill="#ff4a00"/>
<rect x="240.5" y="237.11" width="14.6" height="2.92" fill="#ff3900"/>
<rect x="240.5" y="234.5" width="14.6" height="2.92" fill="#ff2800"/>
<rect x="240.5" y="231.88" width="14.6" height="2.92" fill="#ff1700"/>
<rect x="240.5" y="229.27" width="14.6" height="2.92" fill="#ff0600"/>
<rect x="240.5" y="226.65" width="14.6" height="2.92" fill="#ff0000"/>
<rect x="240.5" y="223.3" width="14.6" height="3.5" fill="#808080"/>
<rect x="240.5" y="394.2" width="14.6" height="3.1" fill="#000"/>
<rect x="240.5" y="223.3" width="14.6" height="174" fill="none" stroke="#444" stroke-width="0.9"/>
<text x="261.6" y="396.9" font-size="7.6" fill="#262626">52.00</text>
<text x="261.6" y="375.97" font-size="7.6" fill="#262626">62.63</text>
<text x="261.6" y="355.05" font-size="7.6" fill="#262626">73.25</text>
<text x="261.6" y="334.12" font-size="7.6" fill="#262626">83.88</text>
<text x="261.6" y="313.2" font-size="7.6" fill="#262626">94.50</text>
<text x="261.6" y="292.27" font-size="7.6" fill="#262626">105.1</text>
<text x="261.6" y="271.35" font-size="7.6" fill="#262626">115.8</text>
<text x="261.6" y="250.43" font-size="7.6" fill="#262626">126.4</text>
<text x="261.6" y="229.5" font-size="7.6" fill="#262626">137.0</text>
<path d="M255.1 394.2h3.5M255.1 373.27h3.5M255.1 352.35h3.5M255.1 331.43h3.5M255.1 310.5h3.5M255.1 289.57h3.5M255.1 268.65h3.5M255.1 247.73h3.5M255.1 226.8h3.5" stroke="#444" stroke-width="0.9"/>
<text x="251.3" y="218.1" font-size="7.6" text-anchor="middle" fill="#262626">Nitrogen release days</text>
<rect x="326.3" y="296.13" width="16.2" height="98.27" fill="#1b9e77" stroke="#2a2a2a" stroke-width="0.8"/>
<path d="M334.4 293.96V298.29M332.8 293.96H336M332.8 298.29H336" stroke="#1a1a1a" stroke-width="0.9" fill="none"/>
<text x="334.4" y="290.36" font-size="7.6" text-anchor="middle" fill="#262626">98 bc</text>
<rect x="346.09" y="245.44" width="16.2" height="148.96" fill="#d95f02" stroke="#2a2a2a" stroke-width="0.8"/>
<path d="M354.19 244.17V246.7M352.59 244.17H355.79M352.59 246.7H355.79" stroke="#1a1a1a" stroke-width="0.9" fill="none"/>
<text x="354.19" y="240.57" font-size="7.6" text-anchor="middle" fill="#262626">126 a</text>
<rect x="365.88" y="285.3" width="16.2" height="109.1" fill="#7570b3" stroke="#2a2a2a" stroke-width="0.8"/>
<path d="M373.98 284.85V285.76M372.38 284.85H375.58M372.38 285.76H375.58" stroke="#1a1a1a" stroke-width="0.9" fill="none"/>
<text x="373.98" y="281.25" font-size="7.6" text-anchor="middle" fill="#262626">104 b</text>
<rect x="385.67" y="282.42" width="16.2" height="111.98" fill="#e7298a" stroke="#2a2a2a" stroke-width="0.8"/>
<path d="M393.77 272.14V292.7M392.17 272.14H395.37M392.17 292.7H395.37" stroke="#1a1a1a" stroke-width="0.9" fill="none"/>
<text x="393.77" y="268.54" font-size="7.6" text-anchor="middle" fill="#262626">105 b</text>
<rect x="405.46" y="303.34" width="16.2" height="91.06" fill="#66a61e" stroke="#2a2a2a" stroke-width="0.8"/>
<path d="M413.56 302.26V304.43M411.96 302.26H415.16M411.96 304.43H415.16" stroke="#1a1a1a" stroke-width="0.9" fill="none"/>
<text x="413.56" y="298.66" font-size="7.6" text-anchor="middle" fill="#262626">94 cd</text>
<rect x="425.25" y="282.42" width="16.2" height="111.98" fill="#e6ab02" stroke="#2a2a2a" stroke-width="0.8"/>
<path d="M433.35 271.95V292.88M431.75 271.95H434.95M431.75 292.88H434.95" stroke="#1a1a1a" stroke-width="0.9" fill="none"/>
<text x="433.35" y="268.35" font-size="7.6" text-anchor="middle" fill="#262626">105 b</text>
<rect x="445.04" y="324.63" width="16.2" height="69.77" fill="#a6761d" stroke="#2a2a2a" stroke-width="0.8"/>
<path d="M453.14 323.91V325.35M451.54 323.91H454.74M451.54 325.35H454.74" stroke="#1a1a1a" stroke-width="0.9" fill="none"/>
<text x="453.14" y="320.31" font-size="7.6" text-anchor="middle" fill="#262626">82 e</text>
<rect x="464.83" y="317.24" width="16.2" height="77.16" fill="#666666" stroke="#2a2a2a" stroke-width="0.8"/>
<path d="M472.93 313.99V320.48M471.33 313.99H474.53M471.33 320.48H474.53" stroke="#1a1a1a" stroke-width="0.9" fill="none"/>
<text x="472.93" y="310.39" font-size="7.6" text-anchor="middle" fill="#262626">86 de</text>
<rect x="484.62" y="325.17" width="16.2" height="69.23" fill="#5f87b9" stroke="#2a2a2a" stroke-width="0.8"/>
<path d="M492.72 321.38V328.96M491.12 321.38H494.32M491.12 328.96H494.32" stroke="#1a1a1a" stroke-width="0.9" fill="none"/>
<text x="492.72" y="317.78" font-size="7.6" text-anchor="middle" fill="#262626">82 e</text>
<rect x="504.41" y="357.28" width="16.2" height="37.12" fill="#f4776b" stroke="#2a2a2a" stroke-width="0.8"/>
<path d="M512.51 349.89V364.68M510.91 349.89H514.11M510.91 364.68H514.11" stroke="#1a1a1a" stroke-width="0.9" fill="none"/>
<text x="512.51" y="346.29" font-size="7.6" text-anchor="middle" fill="#262626">64 f</text>
<rect x="524.2" y="323.01" width="16.2" height="71.39" fill="#80a47f" stroke="#2a2a2a" stroke-width="0.8"/>
<path d="M532.3 318.5V327.52M530.7 318.5H533.9M530.7 327.52H533.9" stroke="#1a1a1a" stroke-width="0.9" fill="none"/>
<text x="532.3" y="314.9" font-size="7.6" text-anchor="middle" fill="#262626">83 e</text>
<rect x="323.5" y="372.9" width="219.7" height="2.9" fill="#fff"/>
<path d="M324.5 220.2H542.2M324.5 220.2V372.9M324.5 375.8V394.4H542.2M542.2 220.2V372.9M542.2 375.8V394.4" stroke="#3a3a3a" stroke-width="1.2" fill="none"/>
<path d="M321.2 374.4L327.7 371.8M321.2 377.7L327.7 375.1" stroke="#111" stroke-width="0.9"/>
<path d="M538.9 374.4L545.4 371.8M538.9 377.7L545.4 375.1" stroke="#111" stroke-width="0.9"/>
<path d="M324.5 364.5h-3.3M324.5 346.46h-3.3M324.5 328.42h-3.3M324.5 310.38h-3.3M324.5 292.34h-3.3M324.5 274.3h-3.3M324.5 256.26h-3.3M324.5 238.22h-3.3M324.5 220.18h-3.3M324.5 355.48h-1.8M324.5 337.44h-1.8M324.5 319.4h-1.8M324.5 301.36h-1.8M324.5 283.32h-1.8M324.5 265.28h-1.8M324.5 247.24h-1.8M324.5 229.2h-1.8M324.5 394.4h-3.3M334.4 394.4v3M354.19 394.4v3M373.98 394.4v3M393.77 394.4v3M413.56 394.4v3M433.35 394.4v3M453.14 394.4v3M472.93 394.4v3M492.72 394.4v3M512.51 394.4v3M532.3 394.4v3M324.5 394.4v1.8M344.29 394.4v1.8M364.08 394.4v1.8M383.87 394.4v1.8M403.66 394.4v1.8M423.45 394.4v1.8M443.25 394.4v1.8M463.04 394.4v1.8M482.83 394.4v1.8M502.62 394.4v1.8M522.41 394.4v1.8M542.2 394.4v1.8" stroke="#3a3a3a" stroke-width="1" fill="none"/>
<text x="318.5" y="366.6" font-size="7.6" text-anchor="end" fill="#262626">60</text>
<text x="318.5" y="348.56" font-size="7.6" text-anchor="end" fill="#262626">70</text>
<text x="318.5" y="330.52" font-size="7.6" text-anchor="end" fill="#262626">80</text>
<text x="318.5" y="312.48" font-size="7.6" text-anchor="end" fill="#262626">90</text>
<text x="318.5" y="294.44" font-size="7.6" text-anchor="end" fill="#262626">100</text>
<text x="318.5" y="276.4" font-size="7.6" text-anchor="end" fill="#262626">110</text>
<text x="318.5" y="258.36" font-size="7.6" text-anchor="end" fill="#262626">120</text>
<text x="318.5" y="240.32" font-size="7.6" text-anchor="end" fill="#262626">130</text>
<text x="318.5" y="222.28" font-size="7.6" text-anchor="end" fill="#262626">140</text>
<text x="318.5" y="396.5" font-size="7.6" text-anchor="end" fill="#262626">0</text>
<text transform="translate(342.8 400.8) rotate(-45)" font-size="6.9" text-anchor="end" fill="#262626">A2B1</text>
<text transform="translate(362.59 400.8) rotate(-45)" font-size="6.9" text-anchor="end" fill="#262626">A2B2</text>
<text transform="translate(382.38 400.8) rotate(-45)" font-size="6.9" text-anchor="end" fill="#262626">A1B3</text>
<text transform="translate(402.17 400.8) rotate(-45)" font-size="6.9" text-anchor="end" fill="#262626">A2B3</text>
<text transform="translate(421.96 400.8) rotate(-45)" font-size="6.9" text-anchor="end" fill="#262626">A3B3</text>
<text transform="translate(441.75 400.8) rotate(-45)" font-size="6.9" text-anchor="end" fill="#262626">A4B3</text>
<text transform="translate(461.54 400.8) rotate(-45)" font-size="6.9" text-anchor="end" fill="#262626">A5B3</text>
<text transform="translate(481.33 400.8) rotate(-45)" font-size="6.9" text-anchor="end" fill="#262626">A2B4</text>
<text transform="translate(501.12 400.8) rotate(-45)" font-size="6.9" text-anchor="end" fill="#262626">A2B5</text>
<text transform="translate(520.91 400.8) rotate(-45)" font-size="6.9" text-anchor="end" fill="#262626">PPCU</text>
<text transform="translate(540.7 400.8) rotate(-45)" font-size="6.9" text-anchor="end" fill="#262626">SOPCU</text>
<text class="t" x="429.5" y="428.2" font-size="9.1" text-anchor="middle" fill="#111">Treatments</text>
<text class="t" transform="translate(302.3 309.2) rotate(-90)" font-size="9.1" text-anchor="middle" fill="#111">Water contact angle (°)</text>
<text class="t" x="289.5" y="233.5" font-size="13.5" fill="#111">(d)</text>
</svg></body></html>
